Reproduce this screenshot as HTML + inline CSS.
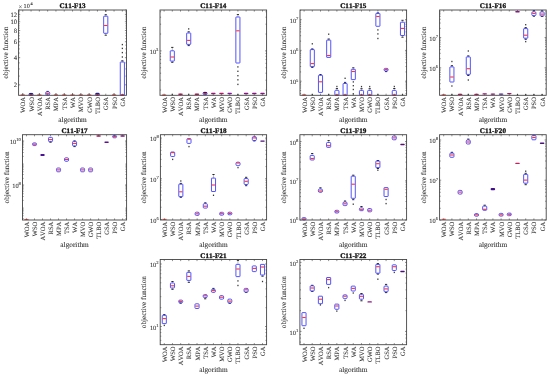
<!DOCTYPE html>
<html><head><meta charset="utf-8"><title>Boxplots</title>
<style>html,body{margin:0;padding:0;background:#fff;overflow:hidden;} svg{display:block;font-family:'Liberation Serif', serif;font-kerning:none;text-rendering:geometricPrecision;}</style>
</head><body>
<svg width="550" height="377" viewBox="0 0 550 377">
<rect width="550" height="377" fill="#fff"/>
<g>
<g><line x1="20.68" y1="94.9" x2="24.82" y2="94.9" stroke="#ff3030" stroke-width="1.2" stroke-opacity="0.8"/><rect x="22.25" y="93.4" width="1" height="1" fill="#333"/><line x1="31.05" y1="93.5" x2="31.05" y2="93.4" stroke="#000" stroke-width="0.5" stroke-opacity="0.5"/><line x1="29.95" y1="93.5" x2="32.15" y2="93.5" stroke="#111" stroke-width="0.9"/><rect x="28.98" y="93.4" width="4.15" height="2" rx="1" fill="none" stroke="#3434ff" stroke-width="0.85"/><line x1="29.38" y1="94.6" x2="32.73" y2="94.6" stroke="#ff3030" stroke-width="1.1"/><line x1="29.28" y1="93.8" x2="32.83" y2="93.8" stroke="#201060" stroke-width="1"/><line x1="37.27" y1="94.9" x2="41.43" y2="94.9" stroke="#ff3030" stroke-width="1.2" stroke-opacity="0.8"/><rect x="38.85" y="93.4" width="1" height="1" fill="#333"/><line x1="47.65" y1="91.4" x2="47.65" y2="91.9" stroke="#000" stroke-width="0.5" stroke-opacity="0.5"/><line x1="46.55" y1="91.4" x2="48.75" y2="91.4" stroke="#111" stroke-width="0.9"/><rect x="45.58" y="91.9" width="4.15" height="3.1" rx="1.2" fill="none" stroke="#3434ff" stroke-width="0.85"/><line x1="45.98" y1="93.7" x2="49.33" y2="93.7" stroke="#ff3030" stroke-width="1.1"/><line x1="53.88" y1="94.9" x2="58.03" y2="94.9" stroke="#ff3030" stroke-width="1.2" stroke-opacity="0.8"/><rect x="55.45" y="93.4" width="1" height="1" fill="#333"/><line x1="62.17" y1="94.9" x2="66.33" y2="94.9" stroke="#ff3030" stroke-width="1.2" stroke-opacity="0.8"/><rect x="63.75" y="93.4" width="1" height="1" fill="#333"/><line x1="70.48" y1="94.9" x2="74.63" y2="94.9" stroke="#ff3030" stroke-width="1.2" stroke-opacity="0.8"/><rect x="72.05" y="93.4" width="1" height="1" fill="#333"/><line x1="78.78" y1="94.9" x2="82.93" y2="94.9" stroke="#ff3030" stroke-width="1.2" stroke-opacity="0.8"/><rect x="80.35" y="93.4" width="1" height="1" fill="#333"/><line x1="87.08" y1="94.9" x2="91.23" y2="94.9" stroke="#ff3030" stroke-width="1.2" stroke-opacity="0.8"/><rect x="88.65" y="93.4" width="1" height="1" fill="#333"/><line x1="97.45" y1="93.4" x2="97.45" y2="93.3" stroke="#000" stroke-width="0.5" stroke-opacity="0.5"/><line x1="96.35" y1="93.4" x2="98.55" y2="93.4" stroke="#111" stroke-width="0.9"/><rect x="95.38" y="93.3" width="4.15" height="2.1" rx="1.05" fill="none" stroke="#3434ff" stroke-width="0.85"/><line x1="95.78" y1="94.6" x2="99.13" y2="94.6" stroke="#ff3030" stroke-width="1.1"/><line x1="95.68" y1="93.7" x2="99.23" y2="93.7" stroke="#201060" stroke-width="1"/><line x1="105.75" y1="14.7" x2="105.75" y2="16.2" stroke="#000" stroke-width="0.5" stroke-opacity="0.5"/><line x1="104.65" y1="14.7" x2="106.85" y2="14.7" stroke="#111" stroke-width="0.9"/><line x1="105.75" y1="33.3" x2="105.75" y2="35.2" stroke="#000" stroke-width="0.5" stroke-opacity="0.5"/><line x1="104.65" y1="35.2" x2="106.85" y2="35.2" stroke="#111" stroke-width="0.9"/><rect x="105.15" y="10.2" width="1.2" height="1.4" fill="#333"/><rect x="103.67" y="16.2" width="4.15" height="17.1" rx="0.4" fill="none" stroke="#3434ff" stroke-width="0.85"/><line x1="104.08" y1="25.5" x2="107.42" y2="25.5" stroke="#ff3030" stroke-width="1.1"/><line x1="111.98" y1="94.9" x2="116.13" y2="94.9" stroke="#ff3030" stroke-width="1.2" stroke-opacity="0.8"/><rect x="113.55" y="93.4" width="1" height="1" fill="#333"/><line x1="122.35" y1="60.8" x2="122.35" y2="62" stroke="#000" stroke-width="0.5" stroke-opacity="0.5"/><line x1="121.25" y1="60.8" x2="123.45" y2="60.8" stroke="#111" stroke-width="0.9"/><rect x="121.75" y="43.9" width="1.2" height="1.4" fill="#333"/><rect x="121.75" y="47.7" width="1.2" height="1.4" fill="#333"/><rect x="121.75" y="51.9" width="1.2" height="1.4" fill="#333"/><rect x="121.75" y="56.3" width="1.2" height="1.4" fill="#333"/><rect x="120.28" y="62" width="4.15" height="33.3" rx="0.4" fill="none" stroke="#3434ff" stroke-width="0.85"/><line x1="120.68" y1="94.7" x2="124.03" y2="94.7" stroke="#ff3030" stroke-width="1.1"/><rect x="18.6" y="10" width="107.9" height="85.3" fill="none" stroke="#444444" stroke-width="0.9"/><line x1="22.75" y1="95.3" x2="22.75" y2="93.7" stroke="#444444" stroke-width="0.6"/><line x1="22.75" y1="10" x2="22.75" y2="11.6" stroke="#444444" stroke-width="0.6"/><line x1="31.05" y1="95.3" x2="31.05" y2="93.7" stroke="#444444" stroke-width="0.6"/><line x1="31.05" y1="10" x2="31.05" y2="11.6" stroke="#444444" stroke-width="0.6"/><line x1="39.35" y1="95.3" x2="39.35" y2="93.7" stroke="#444444" stroke-width="0.6"/><line x1="39.35" y1="10" x2="39.35" y2="11.6" stroke="#444444" stroke-width="0.6"/><line x1="47.65" y1="95.3" x2="47.65" y2="93.7" stroke="#444444" stroke-width="0.6"/><line x1="47.65" y1="10" x2="47.65" y2="11.6" stroke="#444444" stroke-width="0.6"/><line x1="55.95" y1="95.3" x2="55.95" y2="93.7" stroke="#444444" stroke-width="0.6"/><line x1="55.95" y1="10" x2="55.95" y2="11.6" stroke="#444444" stroke-width="0.6"/><line x1="64.25" y1="95.3" x2="64.25" y2="93.7" stroke="#444444" stroke-width="0.6"/><line x1="64.25" y1="10" x2="64.25" y2="11.6" stroke="#444444" stroke-width="0.6"/><line x1="72.55" y1="95.3" x2="72.55" y2="93.7" stroke="#444444" stroke-width="0.6"/><line x1="72.55" y1="10" x2="72.55" y2="11.6" stroke="#444444" stroke-width="0.6"/><line x1="80.85" y1="95.3" x2="80.85" y2="93.7" stroke="#444444" stroke-width="0.6"/><line x1="80.85" y1="10" x2="80.85" y2="11.6" stroke="#444444" stroke-width="0.6"/><line x1="89.15" y1="95.3" x2="89.15" y2="93.7" stroke="#444444" stroke-width="0.6"/><line x1="89.15" y1="10" x2="89.15" y2="11.6" stroke="#444444" stroke-width="0.6"/><line x1="97.45" y1="95.3" x2="97.45" y2="93.7" stroke="#444444" stroke-width="0.6"/><line x1="97.45" y1="10" x2="97.45" y2="11.6" stroke="#444444" stroke-width="0.6"/><line x1="105.75" y1="95.3" x2="105.75" y2="93.7" stroke="#444444" stroke-width="0.6"/><line x1="105.75" y1="10" x2="105.75" y2="11.6" stroke="#444444" stroke-width="0.6"/><line x1="114.05" y1="95.3" x2="114.05" y2="93.7" stroke="#444444" stroke-width="0.6"/><line x1="114.05" y1="10" x2="114.05" y2="11.6" stroke="#444444" stroke-width="0.6"/><line x1="122.35" y1="95.3" x2="122.35" y2="93.7" stroke="#444444" stroke-width="0.6"/><line x1="122.35" y1="10" x2="122.35" y2="11.6" stroke="#444444" stroke-width="0.6"/><line x1="18.6" y1="84.83" x2="20.2" y2="84.83" stroke="#444444" stroke-width="0.6"/><line x1="126.5" y1="84.83" x2="124.9" y2="84.83" stroke="#444444" stroke-width="0.6"/><line x1="18.6" y1="57.66" x2="20.2" y2="57.66" stroke="#444444" stroke-width="0.6"/><line x1="126.5" y1="57.66" x2="124.9" y2="57.66" stroke="#444444" stroke-width="0.6"/><line x1="18.6" y1="41.76" x2="20.2" y2="41.76" stroke="#444444" stroke-width="0.6"/><line x1="126.5" y1="41.76" x2="124.9" y2="41.76" stroke="#444444" stroke-width="0.6"/><line x1="18.6" y1="30.49" x2="20.2" y2="30.49" stroke="#444444" stroke-width="0.6"/><line x1="126.5" y1="30.49" x2="124.9" y2="30.49" stroke="#444444" stroke-width="0.6"/><line x1="18.6" y1="21.74" x2="20.2" y2="21.74" stroke="#444444" stroke-width="0.6"/><line x1="126.5" y1="21.74" x2="124.9" y2="21.74" stroke="#444444" stroke-width="0.6"/><line x1="18.6" y1="14.59" x2="20.2" y2="14.59" stroke="#444444" stroke-width="0.6"/><line x1="126.5" y1="14.59" x2="124.9" y2="14.59" stroke="#444444" stroke-width="0.6"/><line x1="18.6" y1="76.08" x2="19.7" y2="76.08" stroke="#444444" stroke-width="0.6"/><line x1="126.5" y1="76.08" x2="125.4" y2="76.08" stroke="#444444" stroke-width="0.6"/><line x1="18.6" y1="68.93" x2="19.7" y2="68.93" stroke="#444444" stroke-width="0.6"/><line x1="126.5" y1="68.93" x2="125.4" y2="68.93" stroke="#444444" stroke-width="0.6"/><line x1="18.6" y1="62.89" x2="19.7" y2="62.89" stroke="#444444" stroke-width="0.6"/><line x1="126.5" y1="62.89" x2="125.4" y2="62.89" stroke="#444444" stroke-width="0.6"/><line x1="18.6" y1="53.04" x2="19.7" y2="53.04" stroke="#444444" stroke-width="0.6"/><line x1="126.5" y1="53.04" x2="125.4" y2="53.04" stroke="#444444" stroke-width="0.6"/><line x1="18.6" y1="48.91" x2="19.7" y2="48.91" stroke="#444444" stroke-width="0.6"/><line x1="126.5" y1="48.91" x2="125.4" y2="48.91" stroke="#444444" stroke-width="0.6"/><line x1="18.6" y1="45.17" x2="19.7" y2="45.17" stroke="#444444" stroke-width="0.6"/><line x1="126.5" y1="45.17" x2="125.4" y2="45.17" stroke="#444444" stroke-width="0.6"/><line x1="18.6" y1="38.63" x2="19.7" y2="38.63" stroke="#444444" stroke-width="0.6"/><line x1="126.5" y1="38.63" x2="125.4" y2="38.63" stroke="#444444" stroke-width="0.6"/><line x1="18.6" y1="35.72" x2="19.7" y2="35.72" stroke="#444444" stroke-width="0.6"/><line x1="126.5" y1="35.72" x2="125.4" y2="35.72" stroke="#444444" stroke-width="0.6"/><line x1="18.6" y1="33.02" x2="19.7" y2="33.02" stroke="#444444" stroke-width="0.6"/><line x1="126.5" y1="33.02" x2="125.4" y2="33.02" stroke="#444444" stroke-width="0.6"/><line x1="18.6" y1="28.11" x2="19.7" y2="28.11" stroke="#444444" stroke-width="0.6"/><line x1="126.5" y1="28.11" x2="125.4" y2="28.11" stroke="#444444" stroke-width="0.6"/><line x1="18.6" y1="25.87" x2="19.7" y2="25.87" stroke="#444444" stroke-width="0.6"/><line x1="126.5" y1="25.87" x2="125.4" y2="25.87" stroke="#444444" stroke-width="0.6"/><line x1="18.6" y1="23.75" x2="19.7" y2="23.75" stroke="#444444" stroke-width="0.6"/><line x1="126.5" y1="23.75" x2="125.4" y2="23.75" stroke="#444444" stroke-width="0.6"/><line x1="18.6" y1="19.83" x2="19.7" y2="19.83" stroke="#444444" stroke-width="0.6"/><line x1="126.5" y1="19.83" x2="125.4" y2="19.83" stroke="#444444" stroke-width="0.6"/><line x1="18.6" y1="18" x2="19.7" y2="18" stroke="#444444" stroke-width="0.6"/><line x1="126.5" y1="18" x2="125.4" y2="18" stroke="#444444" stroke-width="0.6"/><line x1="18.6" y1="16.26" x2="19.7" y2="16.26" stroke="#444444" stroke-width="0.6"/><line x1="126.5" y1="16.26" x2="125.4" y2="16.26" stroke="#444444" stroke-width="0.6"/><line x1="18.6" y1="12.99" x2="19.7" y2="12.99" stroke="#444444" stroke-width="0.6"/><line x1="126.5" y1="12.99" x2="125.4" y2="12.99" stroke="#444444" stroke-width="0.6"/><line x1="18.6" y1="11.45" x2="19.7" y2="11.45" stroke="#444444" stroke-width="0.6"/><line x1="126.5" y1="11.45" x2="125.4" y2="11.45" stroke="#444444" stroke-width="0.6"/><line x1="18.6" y1="9.97" x2="19.7" y2="9.97" stroke="#444444" stroke-width="0.6"/><line x1="126.5" y1="9.97" x2="125.4" y2="9.97" stroke="#444444" stroke-width="0.6"/><text x="17" y="87.13" text-anchor="end" font-size="6.6" fill="#333333" stroke="#333333" stroke-width="0.08">2</text><text x="17" y="59.96" text-anchor="end" font-size="6.6" fill="#333333" stroke="#333333" stroke-width="0.08">4</text><text x="17" y="44.06" text-anchor="end" font-size="6.6" fill="#333333" stroke="#333333" stroke-width="0.08">6</text><text x="17" y="32.79" text-anchor="end" font-size="6.6" fill="#333333" stroke="#333333" stroke-width="0.08">8</text><text x="17" y="24.04" text-anchor="end" font-size="6.6" fill="#333333" stroke="#333333" stroke-width="0.08">10</text><text x="17" y="16.89" text-anchor="end" font-size="6.6" fill="#333333" stroke="#333333" stroke-width="0.08">12</text><text x="20.5" y="9.1" text-anchor="middle" font-size="6.8" fill="#333333">×</text><text x="23.6" y="8" font-size="6.2" fill="#333333" stroke="#333333" stroke-width="0.08">10</text><text x="30.6" y="4.6" font-size="4.2" fill="#333333" stroke="#333333" stroke-width="0.15">4</text><text transform="translate(25.25,97.1) rotate(-90)" text-anchor="end" font-size="6.5" fill="#333333" stroke="#333333" stroke-width="0.08">WOA</text><text transform="translate(33.55,97.1) rotate(-90)" text-anchor="end" font-size="6.5" fill="#333333" stroke="#333333" stroke-width="0.08">WSO</text><text transform="translate(41.85,97.1) rotate(-90)" text-anchor="end" font-size="6.5" fill="#333333" stroke="#333333" stroke-width="0.08">AVOA</text><text transform="translate(50.15,97.1) rotate(-90)" text-anchor="end" font-size="6.5" fill="#333333" stroke="#333333" stroke-width="0.08">RSA</text><text transform="translate(58.45,97.1) rotate(-90)" text-anchor="end" font-size="6.5" fill="#333333" stroke="#333333" stroke-width="0.08">MPA</text><text transform="translate(66.75,97.1) rotate(-90)" text-anchor="end" font-size="6.5" fill="#333333" stroke="#333333" stroke-width="0.08">TSA</text><text transform="translate(75.05,97.1) rotate(-90)" text-anchor="end" font-size="6.5" fill="#333333" stroke="#333333" stroke-width="0.08">WA</text><text transform="translate(83.35,97.1) rotate(-90)" text-anchor="end" font-size="6.5" fill="#333333" stroke="#333333" stroke-width="0.08">MVO</text><text transform="translate(91.65,97.1) rotate(-90)" text-anchor="end" font-size="6.5" fill="#333333" stroke="#333333" stroke-width="0.08">GWO</text><text transform="translate(99.95,97.1) rotate(-90)" text-anchor="end" font-size="6.5" fill="#333333" stroke="#333333" stroke-width="0.08">TLBO</text><text transform="translate(108.25,97.1) rotate(-90)" text-anchor="end" font-size="6.5" fill="#333333" stroke="#333333" stroke-width="0.08">GSA</text><text transform="translate(116.55,97.1) rotate(-90)" text-anchor="end" font-size="6.5" fill="#333333" stroke="#333333" stroke-width="0.08">PSO</text><text transform="translate(124.85,97.1) rotate(-90)" text-anchor="end" font-size="6.5" fill="#333333" stroke="#333333" stroke-width="0.08">GA</text><text x="72.55" y="8.4" text-anchor="middle" font-size="7.0" font-weight="bold" fill="#111" stroke="#111" stroke-width="0.3" textLength="26.2" lengthAdjust="spacingAndGlyphs">C11-F13</text><text x="72.55" y="122.1" text-anchor="middle" font-size="7.3" fill="#333333" stroke="#333333" stroke-width="0.08">algorithm</text><text transform="translate(7.6,52.65) rotate(-90)" text-anchor="middle" font-size="7.2" fill="#333333" stroke="#333333" stroke-width="0.08">objective function</text></g>
<g><line x1="162.05" y1="95" x2="166.15" y2="95" stroke="#ff3030" stroke-width="1.2" stroke-opacity="0.8"/><line x1="172.3" y1="47.4" x2="172.3" y2="50.8" stroke="#000" stroke-width="0.5" stroke-opacity="0.5"/><line x1="171.2" y1="47.4" x2="173.4" y2="47.4" stroke="#111" stroke-width="0.9"/><line x1="172.3" y1="61.1" x2="172.3" y2="62.3" stroke="#000" stroke-width="0.5" stroke-opacity="0.5"/><line x1="171.2" y1="62.3" x2="173.4" y2="62.3" stroke="#111" stroke-width="0.9"/><rect x="171.7" y="93.8" width="1.2" height="1.4" fill="#333"/><rect x="170.25" y="50.8" width="4.1" height="10.3" rx="0.4" fill="none" stroke="#3434ff" stroke-width="0.85"/><line x1="170.65" y1="57" x2="173.95" y2="57" stroke="#ff3030" stroke-width="1.1"/><rect x="178.25" y="93.6" width="4.5" height="1.4" rx="0.7" fill="#c01458"/><line x1="188.7" y1="31.8" x2="188.7" y2="33" stroke="#000" stroke-width="0.5" stroke-opacity="0.5"/><line x1="187.6" y1="31.8" x2="189.8" y2="31.8" stroke="#111" stroke-width="0.9"/><line x1="188.7" y1="44.4" x2="188.7" y2="45.6" stroke="#000" stroke-width="0.5" stroke-opacity="0.5"/><line x1="187.6" y1="45.6" x2="189.8" y2="45.6" stroke="#111" stroke-width="0.9"/><rect x="188.1" y="28.2" width="1.2" height="1.4" fill="#333"/><rect x="188.1" y="93.8" width="1.2" height="1.4" fill="#333"/><rect x="186.65" y="33" width="4.1" height="11.4" rx="0.4" fill="none" stroke="#3434ff" stroke-width="0.85"/><line x1="187.05" y1="40.4" x2="190.35" y2="40.4" stroke="#ff3030" stroke-width="1.1"/><rect x="194.65" y="93.5" width="4.5" height="1.4" rx="0.7" fill="#c01458"/><line x1="205.1" y1="92.6" x2="205.1" y2="92.3" stroke="#000" stroke-width="0.5" stroke-opacity="0.5"/><line x1="204" y1="92.6" x2="206.2" y2="92.6" stroke="#111" stroke-width="0.9"/><rect x="203.05" y="92.3" width="4.1" height="2.3" rx="1.15" fill="none" stroke="#3434ff" stroke-width="0.85"/><line x1="203.45" y1="93.6" x2="206.75" y2="93.6" stroke="#ff3030" stroke-width="1.1"/><line x1="203.35" y1="92.7" x2="206.85" y2="92.7" stroke="#201060" stroke-width="1"/><rect x="211.05" y="92.8" width="4.5" height="1.4" rx="0.7" fill="#a01478"/><rect x="219.25" y="92.8" width="4.5" height="1.4" rx="0.7" fill="#b81468"/><rect x="227.45" y="92.8" width="4.5" height="1.4" rx="0.7" fill="#8a18a0"/><line x1="237.9" y1="14.6" x2="237.9" y2="17" stroke="#000" stroke-width="0.5" stroke-opacity="0.5"/><line x1="236.8" y1="14.6" x2="239" y2="14.6" stroke="#111" stroke-width="0.9"/><rect x="237.3" y="66.2" width="1.2" height="1.4" fill="#333"/><rect x="237.3" y="70.6" width="1.2" height="1.4" fill="#333"/><rect x="237.3" y="75" width="1.2" height="1.4" fill="#333"/><rect x="237.3" y="79.1" width="1.2" height="1.4" fill="#333"/><rect x="237.3" y="83.7" width="1.2" height="1.4" fill="#333"/><rect x="237.3" y="93.9" width="1.2" height="1.4" fill="#333"/><rect x="235.85" y="17" width="4.1" height="46" rx="0.4" fill="none" stroke="#3434ff" stroke-width="0.85"/><line x1="236.25" y1="30.8" x2="239.55" y2="30.8" stroke="#ff3030" stroke-width="1.1"/><rect x="243.85" y="92.8" width="4.5" height="1.4" rx="0.7" fill="#8a1488"/><rect x="252.05" y="92.8" width="4.5" height="1.4" rx="0.7" fill="#8a1488"/><rect x="260.25" y="92.8" width="4.5" height="1.4" rx="0.7" fill="#8a1488"/><rect x="160" y="10" width="106.6" height="85.3" fill="none" stroke="#444444" stroke-width="0.9"/><line x1="164.1" y1="95.3" x2="164.1" y2="93.7" stroke="#444444" stroke-width="0.6"/><line x1="164.1" y1="10" x2="164.1" y2="11.6" stroke="#444444" stroke-width="0.6"/><line x1="172.3" y1="95.3" x2="172.3" y2="93.7" stroke="#444444" stroke-width="0.6"/><line x1="172.3" y1="10" x2="172.3" y2="11.6" stroke="#444444" stroke-width="0.6"/><line x1="180.5" y1="95.3" x2="180.5" y2="93.7" stroke="#444444" stroke-width="0.6"/><line x1="180.5" y1="10" x2="180.5" y2="11.6" stroke="#444444" stroke-width="0.6"/><line x1="188.7" y1="95.3" x2="188.7" y2="93.7" stroke="#444444" stroke-width="0.6"/><line x1="188.7" y1="10" x2="188.7" y2="11.6" stroke="#444444" stroke-width="0.6"/><line x1="196.9" y1="95.3" x2="196.9" y2="93.7" stroke="#444444" stroke-width="0.6"/><line x1="196.9" y1="10" x2="196.9" y2="11.6" stroke="#444444" stroke-width="0.6"/><line x1="205.1" y1="95.3" x2="205.1" y2="93.7" stroke="#444444" stroke-width="0.6"/><line x1="205.1" y1="10" x2="205.1" y2="11.6" stroke="#444444" stroke-width="0.6"/><line x1="213.3" y1="95.3" x2="213.3" y2="93.7" stroke="#444444" stroke-width="0.6"/><line x1="213.3" y1="10" x2="213.3" y2="11.6" stroke="#444444" stroke-width="0.6"/><line x1="221.5" y1="95.3" x2="221.5" y2="93.7" stroke="#444444" stroke-width="0.6"/><line x1="221.5" y1="10" x2="221.5" y2="11.6" stroke="#444444" stroke-width="0.6"/><line x1="229.7" y1="95.3" x2="229.7" y2="93.7" stroke="#444444" stroke-width="0.6"/><line x1="229.7" y1="10" x2="229.7" y2="11.6" stroke="#444444" stroke-width="0.6"/><line x1="237.9" y1="95.3" x2="237.9" y2="93.7" stroke="#444444" stroke-width="0.6"/><line x1="237.9" y1="10" x2="237.9" y2="11.6" stroke="#444444" stroke-width="0.6"/><line x1="246.1" y1="95.3" x2="246.1" y2="93.7" stroke="#444444" stroke-width="0.6"/><line x1="246.1" y1="10" x2="246.1" y2="11.6" stroke="#444444" stroke-width="0.6"/><line x1="254.3" y1="95.3" x2="254.3" y2="93.7" stroke="#444444" stroke-width="0.6"/><line x1="254.3" y1="10" x2="254.3" y2="11.6" stroke="#444444" stroke-width="0.6"/><line x1="262.5" y1="95.3" x2="262.5" y2="93.7" stroke="#444444" stroke-width="0.6"/><line x1="262.5" y1="10" x2="262.5" y2="11.6" stroke="#444444" stroke-width="0.6"/><line x1="160" y1="50.9" x2="161.6" y2="50.9" stroke="#444444" stroke-width="0.6"/><line x1="266.6" y1="50.9" x2="265" y2="50.9" stroke="#444444" stroke-width="0.6"/><line x1="160" y1="90.04" x2="161.1" y2="90.04" stroke="#444444" stroke-width="0.6"/><line x1="266.6" y1="90.04" x2="265.5" y2="90.04" stroke="#444444" stroke-width="0.6"/><line x1="160" y1="80.18" x2="161.1" y2="80.18" stroke="#444444" stroke-width="0.6"/><line x1="266.6" y1="80.18" x2="265.5" y2="80.18" stroke="#444444" stroke-width="0.6"/><line x1="160" y1="73.18" x2="161.1" y2="73.18" stroke="#444444" stroke-width="0.6"/><line x1="266.6" y1="73.18" x2="265.5" y2="73.18" stroke="#444444" stroke-width="0.6"/><line x1="160" y1="67.76" x2="161.1" y2="67.76" stroke="#444444" stroke-width="0.6"/><line x1="266.6" y1="67.76" x2="265.5" y2="67.76" stroke="#444444" stroke-width="0.6"/><line x1="160" y1="63.32" x2="161.1" y2="63.32" stroke="#444444" stroke-width="0.6"/><line x1="266.6" y1="63.32" x2="265.5" y2="63.32" stroke="#444444" stroke-width="0.6"/><line x1="160" y1="59.57" x2="161.1" y2="59.57" stroke="#444444" stroke-width="0.6"/><line x1="266.6" y1="59.57" x2="265.5" y2="59.57" stroke="#444444" stroke-width="0.6"/><line x1="160" y1="56.33" x2="161.1" y2="56.33" stroke="#444444" stroke-width="0.6"/><line x1="266.6" y1="56.33" x2="265.5" y2="56.33" stroke="#444444" stroke-width="0.6"/><line x1="160" y1="53.46" x2="161.1" y2="53.46" stroke="#444444" stroke-width="0.6"/><line x1="266.6" y1="53.46" x2="265.5" y2="53.46" stroke="#444444" stroke-width="0.6"/><line x1="160" y1="34.04" x2="161.1" y2="34.04" stroke="#444444" stroke-width="0.6"/><line x1="266.6" y1="34.04" x2="265.5" y2="34.04" stroke="#444444" stroke-width="0.6"/><line x1="160" y1="24.18" x2="161.1" y2="24.18" stroke="#444444" stroke-width="0.6"/><line x1="266.6" y1="24.18" x2="265.5" y2="24.18" stroke="#444444" stroke-width="0.6"/><line x1="160" y1="17.18" x2="161.1" y2="17.18" stroke="#444444" stroke-width="0.6"/><line x1="266.6" y1="17.18" x2="265.5" y2="17.18" stroke="#444444" stroke-width="0.6"/><line x1="160" y1="11.76" x2="161.1" y2="11.76" stroke="#444444" stroke-width="0.6"/><line x1="266.6" y1="11.76" x2="265.5" y2="11.76" stroke="#444444" stroke-width="0.6"/><text x="158.4" y="54" text-anchor="end" font-size="6.4" fill="#333333" stroke="#333333" stroke-width="0.08">10<tspan font-size="4.6" dy="-2.8">3</tspan></text><text transform="translate(166.6,97.1) rotate(-90)" text-anchor="end" font-size="6.5" fill="#333333" stroke="#333333" stroke-width="0.08">WOA</text><text transform="translate(174.8,97.1) rotate(-90)" text-anchor="end" font-size="6.5" fill="#333333" stroke="#333333" stroke-width="0.08">WSO</text><text transform="translate(183,97.1) rotate(-90)" text-anchor="end" font-size="6.5" fill="#333333" stroke="#333333" stroke-width="0.08">AVOA</text><text transform="translate(191.2,97.1) rotate(-90)" text-anchor="end" font-size="6.5" fill="#333333" stroke="#333333" stroke-width="0.08">RSA</text><text transform="translate(199.4,97.1) rotate(-90)" text-anchor="end" font-size="6.5" fill="#333333" stroke="#333333" stroke-width="0.08">MPA</text><text transform="translate(207.6,97.1) rotate(-90)" text-anchor="end" font-size="6.5" fill="#333333" stroke="#333333" stroke-width="0.08">TSA</text><text transform="translate(215.8,97.1) rotate(-90)" text-anchor="end" font-size="6.5" fill="#333333" stroke="#333333" stroke-width="0.08">WA</text><text transform="translate(224,97.1) rotate(-90)" text-anchor="end" font-size="6.5" fill="#333333" stroke="#333333" stroke-width="0.08">MVO</text><text transform="translate(232.2,97.1) rotate(-90)" text-anchor="end" font-size="6.5" fill="#333333" stroke="#333333" stroke-width="0.08">GWO</text><text transform="translate(240.4,97.1) rotate(-90)" text-anchor="end" font-size="6.5" fill="#333333" stroke="#333333" stroke-width="0.08">TLBO</text><text transform="translate(248.6,97.1) rotate(-90)" text-anchor="end" font-size="6.5" fill="#333333" stroke="#333333" stroke-width="0.08">GSA</text><text transform="translate(256.8,97.1) rotate(-90)" text-anchor="end" font-size="6.5" fill="#333333" stroke="#333333" stroke-width="0.08">PSO</text><text transform="translate(265,97.1) rotate(-90)" text-anchor="end" font-size="6.5" fill="#333333" stroke="#333333" stroke-width="0.08">GA</text><text x="213.3" y="8.4" text-anchor="middle" font-size="7.0" font-weight="bold" fill="#111" stroke="#111" stroke-width="0.3" textLength="26.2" lengthAdjust="spacingAndGlyphs">C11-F14</text><text x="213.3" y="122.1" text-anchor="middle" font-size="7.3" fill="#333333" stroke="#333333" stroke-width="0.08">algorithm</text><text transform="translate(146,52.65) rotate(-90)" text-anchor="middle" font-size="7.2" fill="#333333" stroke="#333333" stroke-width="0.08">objective function</text></g>
<g><line x1="302.05" y1="94.9" x2="306.15" y2="94.9" stroke="#ff3030" stroke-width="1.2" stroke-opacity="0.8"/><line x1="312.3" y1="48.9" x2="312.3" y2="49.6" stroke="#000" stroke-width="0.5" stroke-opacity="0.5"/><line x1="311.2" y1="48.9" x2="313.4" y2="48.9" stroke="#111" stroke-width="0.9"/><line x1="312.3" y1="66.6" x2="312.3" y2="67.4" stroke="#000" stroke-width="0.5" stroke-opacity="0.5"/><line x1="311.2" y1="67.4" x2="313.4" y2="67.4" stroke="#111" stroke-width="0.9"/><rect x="311.7" y="43.1" width="1.2" height="1.4" fill="#333"/><rect x="311.7" y="93.9" width="1.2" height="1.4" fill="#333"/><rect x="310.25" y="49.6" width="4.1" height="17" rx="0.4" fill="none" stroke="#3434ff" stroke-width="0.85"/><line x1="310.65" y1="63.6" x2="313.95" y2="63.6" stroke="#ff3030" stroke-width="1.1"/><line x1="320.5" y1="74.5" x2="320.5" y2="75.3" stroke="#000" stroke-width="0.5" stroke-opacity="0.5"/><line x1="319.4" y1="74.5" x2="321.6" y2="74.5" stroke="#111" stroke-width="0.9"/><rect x="318.45" y="75.3" width="4.1" height="17.1" rx="0.4" fill="none" stroke="#3434ff" stroke-width="0.85"/><line x1="318.85" y1="81.8" x2="322.15" y2="81.8" stroke="#ff3030" stroke-width="1.1"/><line x1="328.7" y1="39" x2="328.7" y2="40.1" stroke="#000" stroke-width="0.5" stroke-opacity="0.5"/><line x1="327.6" y1="39" x2="329.8" y2="39" stroke="#111" stroke-width="0.9"/><rect x="328.1" y="33.5" width="1.2" height="1.4" fill="#333"/><rect x="328.1" y="93.9" width="1.2" height="1.4" fill="#333"/><rect x="326.65" y="40.1" width="4.1" height="17.3" rx="0.4" fill="none" stroke="#3434ff" stroke-width="0.85"/><line x1="327.05" y1="55.5" x2="330.35" y2="55.5" stroke="#ff3030" stroke-width="1.1"/><line x1="336.9" y1="88.6" x2="336.9" y2="90.3" stroke="#000" stroke-width="0.5" stroke-opacity="0.5"/><line x1="335.8" y1="88.6" x2="338" y2="88.6" stroke="#111" stroke-width="0.9"/><rect x="336.3" y="85.8" width="1.2" height="1.4" fill="#333"/><rect x="334.85" y="90.3" width="4.1" height="5" rx="0.8" fill="none" stroke="#3434ff" stroke-width="0.85"/><line x1="335.25" y1="94.9" x2="338.55" y2="94.9" stroke="#ff3030" stroke-width="1.1"/><line x1="345.1" y1="82.4" x2="345.1" y2="83.5" stroke="#000" stroke-width="0.5" stroke-opacity="0.5"/><line x1="344" y1="82.4" x2="346.2" y2="82.4" stroke="#111" stroke-width="0.9"/><rect x="344.5" y="77.6" width="1.2" height="1.4" fill="#333"/><rect x="343.05" y="83.5" width="4.1" height="11.8" rx="0.4" fill="none" stroke="#3434ff" stroke-width="0.85"/><line x1="343.45" y1="94.9" x2="346.75" y2="94.9" stroke="#ff3030" stroke-width="1.1"/><line x1="353.3" y1="67.8" x2="353.3" y2="69.3" stroke="#000" stroke-width="0.5" stroke-opacity="0.5"/><line x1="352.2" y1="67.8" x2="354.4" y2="67.8" stroke="#111" stroke-width="0.9"/><rect x="352.7" y="81.2" width="1.2" height="1.4" fill="#333"/><rect x="352.7" y="85" width="1.2" height="1.4" fill="#333"/><rect x="352.7" y="88.8" width="1.2" height="1.4" fill="#333"/><rect x="352.7" y="93.1" width="1.2" height="1.4" fill="#333"/><rect x="351.25" y="69.3" width="4.1" height="10.3" rx="0.4" fill="none" stroke="#3434ff" stroke-width="0.85"/><line x1="351.65" y1="71.5" x2="354.95" y2="71.5" stroke="#ff3030" stroke-width="1.1"/><line x1="361.5" y1="88.7" x2="361.5" y2="90.4" stroke="#000" stroke-width="0.5" stroke-opacity="0.5"/><line x1="360.4" y1="88.7" x2="362.6" y2="88.7" stroke="#111" stroke-width="0.9"/><rect x="360.9" y="85.9" width="1.2" height="1.4" fill="#333"/><rect x="359.45" y="90.4" width="4.1" height="4.9" rx="0.8" fill="none" stroke="#3434ff" stroke-width="0.85"/><line x1="359.85" y1="94.9" x2="363.15" y2="94.9" stroke="#ff3030" stroke-width="1.1"/><line x1="369.7" y1="88.7" x2="369.7" y2="90.4" stroke="#000" stroke-width="0.5" stroke-opacity="0.5"/><line x1="368.6" y1="88.7" x2="370.8" y2="88.7" stroke="#111" stroke-width="0.9"/><rect x="369.1" y="85.9" width="1.2" height="1.4" fill="#333"/><rect x="367.65" y="90.4" width="4.1" height="4.9" rx="0.8" fill="none" stroke="#3434ff" stroke-width="0.85"/><line x1="368.05" y1="94.9" x2="371.35" y2="94.9" stroke="#ff3030" stroke-width="1.1"/><line x1="377.9" y1="12.9" x2="377.9" y2="13.4" stroke="#000" stroke-width="0.5" stroke-opacity="0.5"/><line x1="376.8" y1="12.9" x2="379" y2="12.9" stroke="#111" stroke-width="0.9"/><rect x="377.3" y="29.2" width="1.2" height="1.4" fill="#333"/><rect x="377.3" y="33.2" width="1.2" height="1.4" fill="#333"/><rect x="377.3" y="37.8" width="1.2" height="1.4" fill="#333"/><rect x="377.3" y="93.9" width="1.2" height="1.4" fill="#333"/><rect x="375.85" y="13.4" width="4.1" height="12.9" rx="0.4" fill="none" stroke="#3434ff" stroke-width="0.85"/><line x1="376.25" y1="16.5" x2="379.55" y2="16.5" stroke="#ff3030" stroke-width="1.1"/><line x1="386.1" y1="71" x2="386.1" y2="71.6" stroke="#000" stroke-width="0.5" stroke-opacity="0.5"/><line x1="385" y1="71.6" x2="387.2" y2="71.6" stroke="#111" stroke-width="0.9"/><rect x="384.05" y="68.4" width="4.1" height="2.6" rx="1.2" fill="none" stroke="#3434ff" stroke-width="0.85"/><line x1="384.45" y1="69.6" x2="387.75" y2="69.6" stroke="#ff3030" stroke-width="1.1"/><line x1="394.3" y1="88.5" x2="394.3" y2="90.4" stroke="#000" stroke-width="0.5" stroke-opacity="0.5"/><line x1="393.2" y1="88.5" x2="395.4" y2="88.5" stroke="#111" stroke-width="0.9"/><rect x="393.7" y="85.8" width="1.2" height="1.4" fill="#333"/><rect x="392.25" y="90.4" width="4.1" height="4.9" rx="0.8" fill="none" stroke="#3434ff" stroke-width="0.85"/><line x1="392.65" y1="94.9" x2="395.95" y2="94.9" stroke="#ff3030" stroke-width="1.1"/><line x1="402.5" y1="20.3" x2="402.5" y2="22.2" stroke="#000" stroke-width="0.5" stroke-opacity="0.5"/><line x1="401.4" y1="20.3" x2="403.6" y2="20.3" stroke="#111" stroke-width="0.9"/><line x1="402.5" y1="35.5" x2="402.5" y2="37.2" stroke="#000" stroke-width="0.5" stroke-opacity="0.5"/><line x1="401.4" y1="37.2" x2="403.6" y2="37.2" stroke="#111" stroke-width="0.9"/><rect x="401.9" y="93.9" width="1.2" height="1.4" fill="#333"/><rect x="400.45" y="22.2" width="4.1" height="13.3" rx="0.4" fill="none" stroke="#3434ff" stroke-width="0.85"/><line x1="400.85" y1="28.4" x2="404.15" y2="28.4" stroke="#ff3030" stroke-width="1.1"/><rect x="300" y="10" width="106.6" height="85.3" fill="none" stroke="#444444" stroke-width="0.9"/><line x1="304.1" y1="95.3" x2="304.1" y2="93.7" stroke="#444444" stroke-width="0.6"/><line x1="304.1" y1="10" x2="304.1" y2="11.6" stroke="#444444" stroke-width="0.6"/><line x1="312.3" y1="95.3" x2="312.3" y2="93.7" stroke="#444444" stroke-width="0.6"/><line x1="312.3" y1="10" x2="312.3" y2="11.6" stroke="#444444" stroke-width="0.6"/><line x1="320.5" y1="95.3" x2="320.5" y2="93.7" stroke="#444444" stroke-width="0.6"/><line x1="320.5" y1="10" x2="320.5" y2="11.6" stroke="#444444" stroke-width="0.6"/><line x1="328.7" y1="95.3" x2="328.7" y2="93.7" stroke="#444444" stroke-width="0.6"/><line x1="328.7" y1="10" x2="328.7" y2="11.6" stroke="#444444" stroke-width="0.6"/><line x1="336.9" y1="95.3" x2="336.9" y2="93.7" stroke="#444444" stroke-width="0.6"/><line x1="336.9" y1="10" x2="336.9" y2="11.6" stroke="#444444" stroke-width="0.6"/><line x1="345.1" y1="95.3" x2="345.1" y2="93.7" stroke="#444444" stroke-width="0.6"/><line x1="345.1" y1="10" x2="345.1" y2="11.6" stroke="#444444" stroke-width="0.6"/><line x1="353.3" y1="95.3" x2="353.3" y2="93.7" stroke="#444444" stroke-width="0.6"/><line x1="353.3" y1="10" x2="353.3" y2="11.6" stroke="#444444" stroke-width="0.6"/><line x1="361.5" y1="95.3" x2="361.5" y2="93.7" stroke="#444444" stroke-width="0.6"/><line x1="361.5" y1="10" x2="361.5" y2="11.6" stroke="#444444" stroke-width="0.6"/><line x1="369.7" y1="95.3" x2="369.7" y2="93.7" stroke="#444444" stroke-width="0.6"/><line x1="369.7" y1="10" x2="369.7" y2="11.6" stroke="#444444" stroke-width="0.6"/><line x1="377.9" y1="95.3" x2="377.9" y2="93.7" stroke="#444444" stroke-width="0.6"/><line x1="377.9" y1="10" x2="377.9" y2="11.6" stroke="#444444" stroke-width="0.6"/><line x1="386.1" y1="95.3" x2="386.1" y2="93.7" stroke="#444444" stroke-width="0.6"/><line x1="386.1" y1="10" x2="386.1" y2="11.6" stroke="#444444" stroke-width="0.6"/><line x1="394.3" y1="95.3" x2="394.3" y2="93.7" stroke="#444444" stroke-width="0.6"/><line x1="394.3" y1="10" x2="394.3" y2="11.6" stroke="#444444" stroke-width="0.6"/><line x1="402.5" y1="95.3" x2="402.5" y2="93.7" stroke="#444444" stroke-width="0.6"/><line x1="402.5" y1="10" x2="402.5" y2="11.6" stroke="#444444" stroke-width="0.6"/><line x1="300" y1="81.2" x2="301.6" y2="81.2" stroke="#444444" stroke-width="0.6"/><line x1="406.6" y1="81.2" x2="405" y2="81.2" stroke="#444444" stroke-width="0.6"/><line x1="300" y1="50.4" x2="301.6" y2="50.4" stroke="#444444" stroke-width="0.6"/><line x1="406.6" y1="50.4" x2="405" y2="50.4" stroke="#444444" stroke-width="0.6"/><line x1="300" y1="19.6" x2="301.6" y2="19.6" stroke="#444444" stroke-width="0.6"/><line x1="406.6" y1="19.6" x2="405" y2="19.6" stroke="#444444" stroke-width="0.6"/><line x1="300" y1="93.46" x2="301.1" y2="93.46" stroke="#444444" stroke-width="0.6"/><line x1="406.6" y1="93.46" x2="405.5" y2="93.46" stroke="#444444" stroke-width="0.6"/><line x1="300" y1="90.47" x2="301.1" y2="90.47" stroke="#444444" stroke-width="0.6"/><line x1="406.6" y1="90.47" x2="405.5" y2="90.47" stroke="#444444" stroke-width="0.6"/><line x1="300" y1="88.03" x2="301.1" y2="88.03" stroke="#444444" stroke-width="0.6"/><line x1="406.6" y1="88.03" x2="405.5" y2="88.03" stroke="#444444" stroke-width="0.6"/><line x1="300" y1="85.97" x2="301.1" y2="85.97" stroke="#444444" stroke-width="0.6"/><line x1="406.6" y1="85.97" x2="405.5" y2="85.97" stroke="#444444" stroke-width="0.6"/><line x1="300" y1="84.18" x2="301.1" y2="84.18" stroke="#444444" stroke-width="0.6"/><line x1="406.6" y1="84.18" x2="405.5" y2="84.18" stroke="#444444" stroke-width="0.6"/><line x1="300" y1="82.61" x2="301.1" y2="82.61" stroke="#444444" stroke-width="0.6"/><line x1="406.6" y1="82.61" x2="405.5" y2="82.61" stroke="#444444" stroke-width="0.6"/><line x1="300" y1="71.93" x2="301.1" y2="71.93" stroke="#444444" stroke-width="0.6"/><line x1="406.6" y1="71.93" x2="405.5" y2="71.93" stroke="#444444" stroke-width="0.6"/><line x1="300" y1="66.5" x2="301.1" y2="66.5" stroke="#444444" stroke-width="0.6"/><line x1="406.6" y1="66.5" x2="405.5" y2="66.5" stroke="#444444" stroke-width="0.6"/><line x1="300" y1="62.66" x2="301.1" y2="62.66" stroke="#444444" stroke-width="0.6"/><line x1="406.6" y1="62.66" x2="405.5" y2="62.66" stroke="#444444" stroke-width="0.6"/><line x1="300" y1="59.67" x2="301.1" y2="59.67" stroke="#444444" stroke-width="0.6"/><line x1="406.6" y1="59.67" x2="405.5" y2="59.67" stroke="#444444" stroke-width="0.6"/><line x1="300" y1="57.23" x2="301.1" y2="57.23" stroke="#444444" stroke-width="0.6"/><line x1="406.6" y1="57.23" x2="405.5" y2="57.23" stroke="#444444" stroke-width="0.6"/><line x1="300" y1="55.17" x2="301.1" y2="55.17" stroke="#444444" stroke-width="0.6"/><line x1="406.6" y1="55.17" x2="405.5" y2="55.17" stroke="#444444" stroke-width="0.6"/><line x1="300" y1="53.38" x2="301.1" y2="53.38" stroke="#444444" stroke-width="0.6"/><line x1="406.6" y1="53.38" x2="405.5" y2="53.38" stroke="#444444" stroke-width="0.6"/><line x1="300" y1="51.81" x2="301.1" y2="51.81" stroke="#444444" stroke-width="0.6"/><line x1="406.6" y1="51.81" x2="405.5" y2="51.81" stroke="#444444" stroke-width="0.6"/><line x1="300" y1="41.13" x2="301.1" y2="41.13" stroke="#444444" stroke-width="0.6"/><line x1="406.6" y1="41.13" x2="405.5" y2="41.13" stroke="#444444" stroke-width="0.6"/><line x1="300" y1="35.7" x2="301.1" y2="35.7" stroke="#444444" stroke-width="0.6"/><line x1="406.6" y1="35.7" x2="405.5" y2="35.7" stroke="#444444" stroke-width="0.6"/><line x1="300" y1="31.86" x2="301.1" y2="31.86" stroke="#444444" stroke-width="0.6"/><line x1="406.6" y1="31.86" x2="405.5" y2="31.86" stroke="#444444" stroke-width="0.6"/><line x1="300" y1="28.87" x2="301.1" y2="28.87" stroke="#444444" stroke-width="0.6"/><line x1="406.6" y1="28.87" x2="405.5" y2="28.87" stroke="#444444" stroke-width="0.6"/><line x1="300" y1="26.43" x2="301.1" y2="26.43" stroke="#444444" stroke-width="0.6"/><line x1="406.6" y1="26.43" x2="405.5" y2="26.43" stroke="#444444" stroke-width="0.6"/><line x1="300" y1="24.37" x2="301.1" y2="24.37" stroke="#444444" stroke-width="0.6"/><line x1="406.6" y1="24.37" x2="405.5" y2="24.37" stroke="#444444" stroke-width="0.6"/><line x1="300" y1="22.58" x2="301.1" y2="22.58" stroke="#444444" stroke-width="0.6"/><line x1="406.6" y1="22.58" x2="405.5" y2="22.58" stroke="#444444" stroke-width="0.6"/><line x1="300" y1="21.01" x2="301.1" y2="21.01" stroke="#444444" stroke-width="0.6"/><line x1="406.6" y1="21.01" x2="405.5" y2="21.01" stroke="#444444" stroke-width="0.6"/><line x1="300" y1="10.33" x2="301.1" y2="10.33" stroke="#444444" stroke-width="0.6"/><line x1="406.6" y1="10.33" x2="405.5" y2="10.33" stroke="#444444" stroke-width="0.6"/><text x="298.4" y="84.3" text-anchor="end" font-size="6.4" fill="#333333" stroke="#333333" stroke-width="0.08">10<tspan font-size="4.6" dy="-2.8">5</tspan></text><text x="298.4" y="53.5" text-anchor="end" font-size="6.4" fill="#333333" stroke="#333333" stroke-width="0.08">10<tspan font-size="4.6" dy="-2.8">6</tspan></text><text x="298.4" y="22.7" text-anchor="end" font-size="6.4" fill="#333333" stroke="#333333" stroke-width="0.08">10<tspan font-size="4.6" dy="-2.8">7</tspan></text><text transform="translate(306.6,97.1) rotate(-90)" text-anchor="end" font-size="6.5" fill="#333333" stroke="#333333" stroke-width="0.08">WOA</text><text transform="translate(314.8,97.1) rotate(-90)" text-anchor="end" font-size="6.5" fill="#333333" stroke="#333333" stroke-width="0.08">WSO</text><text transform="translate(323,97.1) rotate(-90)" text-anchor="end" font-size="6.5" fill="#333333" stroke="#333333" stroke-width="0.08">AVOA</text><text transform="translate(331.2,97.1) rotate(-90)" text-anchor="end" font-size="6.5" fill="#333333" stroke="#333333" stroke-width="0.08">RSA</text><text transform="translate(339.4,97.1) rotate(-90)" text-anchor="end" font-size="6.5" fill="#333333" stroke="#333333" stroke-width="0.08">MPA</text><text transform="translate(347.6,97.1) rotate(-90)" text-anchor="end" font-size="6.5" fill="#333333" stroke="#333333" stroke-width="0.08">TSA</text><text transform="translate(355.8,97.1) rotate(-90)" text-anchor="end" font-size="6.5" fill="#333333" stroke="#333333" stroke-width="0.08">WA</text><text transform="translate(364,97.1) rotate(-90)" text-anchor="end" font-size="6.5" fill="#333333" stroke="#333333" stroke-width="0.08">MVO</text><text transform="translate(372.2,97.1) rotate(-90)" text-anchor="end" font-size="6.5" fill="#333333" stroke="#333333" stroke-width="0.08">GWO</text><text transform="translate(380.4,97.1) rotate(-90)" text-anchor="end" font-size="6.5" fill="#333333" stroke="#333333" stroke-width="0.08">TLBO</text><text transform="translate(388.6,97.1) rotate(-90)" text-anchor="end" font-size="6.5" fill="#333333" stroke="#333333" stroke-width="0.08">GSA</text><text transform="translate(396.8,97.1) rotate(-90)" text-anchor="end" font-size="6.5" fill="#333333" stroke="#333333" stroke-width="0.08">PSO</text><text transform="translate(405,97.1) rotate(-90)" text-anchor="end" font-size="6.5" fill="#333333" stroke="#333333" stroke-width="0.08">GA</text><text x="353.3" y="8.4" text-anchor="middle" font-size="7.0" font-weight="bold" fill="#111" stroke="#111" stroke-width="0.3" textLength="26.2" lengthAdjust="spacingAndGlyphs">C11-F15</text><text x="353.3" y="122.1" text-anchor="middle" font-size="7.3" fill="#333333" stroke="#333333" stroke-width="0.08">algorithm</text><text transform="translate(286,52.65) rotate(-90)" text-anchor="middle" font-size="7.2" fill="#333333" stroke="#333333" stroke-width="0.08">objective function</text></g>
<g><line x1="441.65" y1="94.8" x2="445.75" y2="94.8" stroke="#ff3030" stroke-width="1.2" stroke-opacity="0.8"/><line x1="451.9" y1="65.7" x2="451.9" y2="66.9" stroke="#000" stroke-width="0.5" stroke-opacity="0.5"/><line x1="450.8" y1="65.7" x2="453" y2="65.7" stroke="#111" stroke-width="0.9"/><rect x="451.3" y="60.8" width="1.2" height="1.4" fill="#333"/><rect x="451.3" y="85.3" width="1.2" height="1.4" fill="#333"/><rect x="451.3" y="93.9" width="1.2" height="1.4" fill="#333"/><rect x="449.85" y="66.9" width="4.1" height="15.1" rx="0.4" fill="none" stroke="#3434ff" stroke-width="0.85"/><line x1="450.25" y1="77" x2="453.55" y2="77" stroke="#ff3030" stroke-width="1.1"/><rect x="457.85" y="93.7" width="4.5" height="1.4" rx="0.7" fill="#c01458"/><line x1="468.3" y1="55.9" x2="468.3" y2="56.9" stroke="#000" stroke-width="0.5" stroke-opacity="0.5"/><line x1="467.2" y1="55.9" x2="469.4" y2="55.9" stroke="#111" stroke-width="0.9"/><line x1="468.3" y1="74.4" x2="468.3" y2="75.5" stroke="#000" stroke-width="0.5" stroke-opacity="0.5"/><line x1="467.2" y1="75.5" x2="469.4" y2="75.5" stroke="#111" stroke-width="0.9"/><rect x="467.7" y="50.3" width="1.2" height="1.4" fill="#333"/><rect x="467.7" y="79.3" width="1.2" height="1.4" fill="#333"/><rect x="467.7" y="93.9" width="1.2" height="1.4" fill="#333"/><rect x="466.25" y="56.9" width="4.1" height="17.5" rx="0.4" fill="none" stroke="#3434ff" stroke-width="0.85"/><line x1="466.65" y1="68.7" x2="469.95" y2="68.7" stroke="#ff3030" stroke-width="1.1"/><rect x="474.25" y="93.7" width="4.5" height="1.4" rx="0.7" fill="#c01458"/><rect x="482.45" y="93.2" width="4.5" height="1.4" rx="0.7" fill="#a01478"/><rect x="490.65" y="93.4" width="4.5" height="1.4" rx="0.7" fill="#9a1480"/><rect x="498.85" y="93.4" width="4.5" height="1.4" rx="0.7" fill="#5a20b0"/><rect x="507.05" y="92.9" width="4.5" height="1.4" rx="0.7" fill="#b01870"/><rect x="515.25" y="11" width="4.5" height="1.4" rx="0.7" fill="#8a1488"/><rect x="516.9" y="94" width="1.2" height="1.4" fill="#333"/><line x1="525.7" y1="27.6" x2="525.7" y2="28.6" stroke="#000" stroke-width="0.5" stroke-opacity="0.5"/><line x1="524.6" y1="27.6" x2="526.8" y2="27.6" stroke="#111" stroke-width="0.9"/><line x1="525.7" y1="38.2" x2="525.7" y2="39.3" stroke="#000" stroke-width="0.5" stroke-opacity="0.5"/><line x1="524.6" y1="39.3" x2="526.8" y2="39.3" stroke="#111" stroke-width="0.9"/><rect x="525.1" y="24" width="1.2" height="1.4" fill="#333"/><rect x="525.1" y="40.9" width="1.2" height="1.4" fill="#333"/><rect x="525.1" y="94" width="1.2" height="1.4" fill="#333"/><rect x="523.65" y="28.6" width="4.1" height="9.6" rx="0.4" fill="none" stroke="#3434ff" stroke-width="0.85"/><line x1="524.05" y1="35.2" x2="527.35" y2="35.2" stroke="#ff3030" stroke-width="1.1"/><line x1="533.9" y1="10.6" x2="533.9" y2="11.7" stroke="#000" stroke-width="0.5" stroke-opacity="0.5"/><line x1="532.8" y1="10.6" x2="535" y2="10.6" stroke="#111" stroke-width="0.9"/><line x1="533.9" y1="15.7" x2="533.9" y2="16.2" stroke="#000" stroke-width="0.5" stroke-opacity="0.5"/><line x1="532.8" y1="16.2" x2="535" y2="16.2" stroke="#111" stroke-width="0.9"/><rect x="533.3" y="94" width="1.2" height="1.4" fill="#333"/><rect x="531.85" y="11.7" width="4.1" height="4" rx="1.2" fill="none" stroke="#3434ff" stroke-width="0.85"/><line x1="532.25" y1="13.4" x2="535.55" y2="13.4" stroke="#ff3030" stroke-width="1.1"/><line x1="542.1" y1="10.8" x2="542.1" y2="11.9" stroke="#000" stroke-width="0.5" stroke-opacity="0.5"/><line x1="541" y1="10.8" x2="543.2" y2="10.8" stroke="#111" stroke-width="0.9"/><line x1="542.1" y1="16" x2="542.1" y2="16.4" stroke="#000" stroke-width="0.5" stroke-opacity="0.5"/><line x1="541" y1="16.4" x2="543.2" y2="16.4" stroke="#111" stroke-width="0.9"/><rect x="541.5" y="94" width="1.2" height="1.4" fill="#333"/><rect x="540.05" y="11.9" width="4.1" height="4.1" rx="0.8" fill="none" stroke="#3434ff" stroke-width="0.85"/><line x1="540.45" y1="14.1" x2="543.75" y2="14.1" stroke="#ff3030" stroke-width="1.1"/><rect x="439.6" y="10" width="106.6" height="85.3" fill="none" stroke="#444444" stroke-width="0.9"/><line x1="443.7" y1="95.3" x2="443.7" y2="93.7" stroke="#444444" stroke-width="0.6"/><line x1="443.7" y1="10" x2="443.7" y2="11.6" stroke="#444444" stroke-width="0.6"/><line x1="451.9" y1="95.3" x2="451.9" y2="93.7" stroke="#444444" stroke-width="0.6"/><line x1="451.9" y1="10" x2="451.9" y2="11.6" stroke="#444444" stroke-width="0.6"/><line x1="460.1" y1="95.3" x2="460.1" y2="93.7" stroke="#444444" stroke-width="0.6"/><line x1="460.1" y1="10" x2="460.1" y2="11.6" stroke="#444444" stroke-width="0.6"/><line x1="468.3" y1="95.3" x2="468.3" y2="93.7" stroke="#444444" stroke-width="0.6"/><line x1="468.3" y1="10" x2="468.3" y2="11.6" stroke="#444444" stroke-width="0.6"/><line x1="476.5" y1="95.3" x2="476.5" y2="93.7" stroke="#444444" stroke-width="0.6"/><line x1="476.5" y1="10" x2="476.5" y2="11.6" stroke="#444444" stroke-width="0.6"/><line x1="484.7" y1="95.3" x2="484.7" y2="93.7" stroke="#444444" stroke-width="0.6"/><line x1="484.7" y1="10" x2="484.7" y2="11.6" stroke="#444444" stroke-width="0.6"/><line x1="492.9" y1="95.3" x2="492.9" y2="93.7" stroke="#444444" stroke-width="0.6"/><line x1="492.9" y1="10" x2="492.9" y2="11.6" stroke="#444444" stroke-width="0.6"/><line x1="501.1" y1="95.3" x2="501.1" y2="93.7" stroke="#444444" stroke-width="0.6"/><line x1="501.1" y1="10" x2="501.1" y2="11.6" stroke="#444444" stroke-width="0.6"/><line x1="509.3" y1="95.3" x2="509.3" y2="93.7" stroke="#444444" stroke-width="0.6"/><line x1="509.3" y1="10" x2="509.3" y2="11.6" stroke="#444444" stroke-width="0.6"/><line x1="517.5" y1="95.3" x2="517.5" y2="93.7" stroke="#444444" stroke-width="0.6"/><line x1="517.5" y1="10" x2="517.5" y2="11.6" stroke="#444444" stroke-width="0.6"/><line x1="525.7" y1="95.3" x2="525.7" y2="93.7" stroke="#444444" stroke-width="0.6"/><line x1="525.7" y1="10" x2="525.7" y2="11.6" stroke="#444444" stroke-width="0.6"/><line x1="533.9" y1="95.3" x2="533.9" y2="93.7" stroke="#444444" stroke-width="0.6"/><line x1="533.9" y1="10" x2="533.9" y2="11.6" stroke="#444444" stroke-width="0.6"/><line x1="542.1" y1="95.3" x2="542.1" y2="93.7" stroke="#444444" stroke-width="0.6"/><line x1="542.1" y1="10" x2="542.1" y2="11.6" stroke="#444444" stroke-width="0.6"/><line x1="439.6" y1="67.8" x2="441.2" y2="67.8" stroke="#444444" stroke-width="0.6"/><line x1="546.2" y1="67.8" x2="544.6" y2="67.8" stroke="#444444" stroke-width="0.6"/><line x1="439.6" y1="37.5" x2="441.2" y2="37.5" stroke="#444444" stroke-width="0.6"/><line x1="546.2" y1="37.5" x2="544.6" y2="37.5" stroke="#444444" stroke-width="0.6"/><line x1="439.6" y1="88.98" x2="440.7" y2="88.98" stroke="#444444" stroke-width="0.6"/><line x1="546.2" y1="88.98" x2="545.1" y2="88.98" stroke="#444444" stroke-width="0.6"/><line x1="439.6" y1="83.64" x2="440.7" y2="83.64" stroke="#444444" stroke-width="0.6"/><line x1="546.2" y1="83.64" x2="545.1" y2="83.64" stroke="#444444" stroke-width="0.6"/><line x1="439.6" y1="79.86" x2="440.7" y2="79.86" stroke="#444444" stroke-width="0.6"/><line x1="546.2" y1="79.86" x2="545.1" y2="79.86" stroke="#444444" stroke-width="0.6"/><line x1="439.6" y1="76.92" x2="440.7" y2="76.92" stroke="#444444" stroke-width="0.6"/><line x1="546.2" y1="76.92" x2="545.1" y2="76.92" stroke="#444444" stroke-width="0.6"/><line x1="439.6" y1="74.52" x2="440.7" y2="74.52" stroke="#444444" stroke-width="0.6"/><line x1="546.2" y1="74.52" x2="545.1" y2="74.52" stroke="#444444" stroke-width="0.6"/><line x1="439.6" y1="72.49" x2="440.7" y2="72.49" stroke="#444444" stroke-width="0.6"/><line x1="546.2" y1="72.49" x2="545.1" y2="72.49" stroke="#444444" stroke-width="0.6"/><line x1="439.6" y1="70.74" x2="440.7" y2="70.74" stroke="#444444" stroke-width="0.6"/><line x1="546.2" y1="70.74" x2="545.1" y2="70.74" stroke="#444444" stroke-width="0.6"/><line x1="439.6" y1="69.19" x2="440.7" y2="69.19" stroke="#444444" stroke-width="0.6"/><line x1="546.2" y1="69.19" x2="545.1" y2="69.19" stroke="#444444" stroke-width="0.6"/><line x1="439.6" y1="58.68" x2="440.7" y2="58.68" stroke="#444444" stroke-width="0.6"/><line x1="546.2" y1="58.68" x2="545.1" y2="58.68" stroke="#444444" stroke-width="0.6"/><line x1="439.6" y1="53.34" x2="440.7" y2="53.34" stroke="#444444" stroke-width="0.6"/><line x1="546.2" y1="53.34" x2="545.1" y2="53.34" stroke="#444444" stroke-width="0.6"/><line x1="439.6" y1="49.56" x2="440.7" y2="49.56" stroke="#444444" stroke-width="0.6"/><line x1="546.2" y1="49.56" x2="545.1" y2="49.56" stroke="#444444" stroke-width="0.6"/><line x1="439.6" y1="46.62" x2="440.7" y2="46.62" stroke="#444444" stroke-width="0.6"/><line x1="546.2" y1="46.62" x2="545.1" y2="46.62" stroke="#444444" stroke-width="0.6"/><line x1="439.6" y1="44.22" x2="440.7" y2="44.22" stroke="#444444" stroke-width="0.6"/><line x1="546.2" y1="44.22" x2="545.1" y2="44.22" stroke="#444444" stroke-width="0.6"/><line x1="439.6" y1="42.19" x2="440.7" y2="42.19" stroke="#444444" stroke-width="0.6"/><line x1="546.2" y1="42.19" x2="545.1" y2="42.19" stroke="#444444" stroke-width="0.6"/><line x1="439.6" y1="40.44" x2="440.7" y2="40.44" stroke="#444444" stroke-width="0.6"/><line x1="546.2" y1="40.44" x2="545.1" y2="40.44" stroke="#444444" stroke-width="0.6"/><line x1="439.6" y1="38.89" x2="440.7" y2="38.89" stroke="#444444" stroke-width="0.6"/><line x1="546.2" y1="38.89" x2="545.1" y2="38.89" stroke="#444444" stroke-width="0.6"/><line x1="439.6" y1="28.38" x2="440.7" y2="28.38" stroke="#444444" stroke-width="0.6"/><line x1="546.2" y1="28.38" x2="545.1" y2="28.38" stroke="#444444" stroke-width="0.6"/><line x1="439.6" y1="23.04" x2="440.7" y2="23.04" stroke="#444444" stroke-width="0.6"/><line x1="546.2" y1="23.04" x2="545.1" y2="23.04" stroke="#444444" stroke-width="0.6"/><line x1="439.6" y1="19.26" x2="440.7" y2="19.26" stroke="#444444" stroke-width="0.6"/><line x1="546.2" y1="19.26" x2="545.1" y2="19.26" stroke="#444444" stroke-width="0.6"/><line x1="439.6" y1="16.32" x2="440.7" y2="16.32" stroke="#444444" stroke-width="0.6"/><line x1="546.2" y1="16.32" x2="545.1" y2="16.32" stroke="#444444" stroke-width="0.6"/><line x1="439.6" y1="13.92" x2="440.7" y2="13.92" stroke="#444444" stroke-width="0.6"/><line x1="546.2" y1="13.92" x2="545.1" y2="13.92" stroke="#444444" stroke-width="0.6"/><line x1="439.6" y1="11.89" x2="440.7" y2="11.89" stroke="#444444" stroke-width="0.6"/><line x1="546.2" y1="11.89" x2="545.1" y2="11.89" stroke="#444444" stroke-width="0.6"/><text x="438" y="70.9" text-anchor="end" font-size="6.4" fill="#333333" stroke="#333333" stroke-width="0.08">10<tspan font-size="4.6" dy="-2.8">6</tspan></text><text x="438" y="40.6" text-anchor="end" font-size="6.4" fill="#333333" stroke="#333333" stroke-width="0.08">10<tspan font-size="4.6" dy="-2.8">7</tspan></text><text transform="translate(446.2,97.1) rotate(-90)" text-anchor="end" font-size="6.5" fill="#333333" stroke="#333333" stroke-width="0.08">WOA</text><text transform="translate(454.4,97.1) rotate(-90)" text-anchor="end" font-size="6.5" fill="#333333" stroke="#333333" stroke-width="0.08">WSO</text><text transform="translate(462.6,97.1) rotate(-90)" text-anchor="end" font-size="6.5" fill="#333333" stroke="#333333" stroke-width="0.08">AVOA</text><text transform="translate(470.8,97.1) rotate(-90)" text-anchor="end" font-size="6.5" fill="#333333" stroke="#333333" stroke-width="0.08">RSA</text><text transform="translate(479,97.1) rotate(-90)" text-anchor="end" font-size="6.5" fill="#333333" stroke="#333333" stroke-width="0.08">MPA</text><text transform="translate(487.2,97.1) rotate(-90)" text-anchor="end" font-size="6.5" fill="#333333" stroke="#333333" stroke-width="0.08">TSA</text><text transform="translate(495.4,97.1) rotate(-90)" text-anchor="end" font-size="6.5" fill="#333333" stroke="#333333" stroke-width="0.08">WA</text><text transform="translate(503.6,97.1) rotate(-90)" text-anchor="end" font-size="6.5" fill="#333333" stroke="#333333" stroke-width="0.08">MVO</text><text transform="translate(511.8,97.1) rotate(-90)" text-anchor="end" font-size="6.5" fill="#333333" stroke="#333333" stroke-width="0.08">GWO</text><text transform="translate(520,97.1) rotate(-90)" text-anchor="end" font-size="6.5" fill="#333333" stroke="#333333" stroke-width="0.08">TLBO</text><text transform="translate(528.2,97.1) rotate(-90)" text-anchor="end" font-size="6.5" fill="#333333" stroke="#333333" stroke-width="0.08">GSA</text><text transform="translate(536.4,97.1) rotate(-90)" text-anchor="end" font-size="6.5" fill="#333333" stroke="#333333" stroke-width="0.08">PSO</text><text transform="translate(544.6,97.1) rotate(-90)" text-anchor="end" font-size="6.5" fill="#333333" stroke="#333333" stroke-width="0.08">GA</text><text x="492.9" y="8.4" text-anchor="middle" font-size="7.0" font-weight="bold" fill="#111" stroke="#111" stroke-width="0.3" textLength="26.2" lengthAdjust="spacingAndGlyphs">C11-F16</text><text x="492.9" y="122.1" text-anchor="middle" font-size="7.3" fill="#333333" stroke="#333333" stroke-width="0.08">algorithm</text><text transform="translate(425.6,52.65) rotate(-90)" text-anchor="middle" font-size="7.2" fill="#333333" stroke="#333333" stroke-width="0.08">objective function</text></g>
<g><line x1="24.5" y1="219.5" x2="28.51" y2="219.5" stroke="#ff3030" stroke-width="1.2" stroke-opacity="0.8"/><rect x="32.51" y="142.9" width="4" height="2.7" rx="1.2" fill="none" stroke="#3434ff" stroke-width="0.85"/><line x1="32.91" y1="144.2" x2="36.11" y2="144.2" stroke="#ff3030" stroke-width="1.1"/><rect x="40.32" y="153.9" width="4.4" height="2.2" rx="1" fill="#4a1095"/><line x1="50.53" y1="141.6" x2="50.53" y2="142.2" stroke="#000" stroke-width="0.5" stroke-opacity="0.5"/><line x1="49.43" y1="142.2" x2="51.63" y2="142.2" stroke="#111" stroke-width="0.9"/><rect x="48.52" y="137.4" width="4" height="4.2" rx="0.8" fill="none" stroke="#3434ff" stroke-width="0.85"/><line x1="48.92" y1="139.6" x2="52.13" y2="139.6" stroke="#ff3030" stroke-width="1.1"/><rect x="56.53" y="168" width="4" height="3.8" rx="1.2" fill="none" stroke="#3434ff" stroke-width="0.85"/><line x1="56.93" y1="169.9" x2="60.14" y2="169.9" stroke="#ff3030" stroke-width="1.1"/><rect x="64.54" y="157.8" width="4" height="3.5" rx="1.2" fill="none" stroke="#3434ff" stroke-width="0.85"/><line x1="64.94" y1="159.5" x2="68.14" y2="159.5" stroke="#ff3030" stroke-width="1.1"/><line x1="74.55" y1="140.9" x2="74.55" y2="141.4" stroke="#000" stroke-width="0.5" stroke-opacity="0.5"/><line x1="73.45" y1="140.9" x2="75.65" y2="140.9" stroke="#111" stroke-width="0.9"/><line x1="74.55" y1="145.9" x2="74.55" y2="146.6" stroke="#000" stroke-width="0.5" stroke-opacity="0.5"/><line x1="73.45" y1="146.6" x2="75.65" y2="146.6" stroke="#111" stroke-width="0.9"/><rect x="72.55" y="141.4" width="4" height="4.5" rx="0.8" fill="none" stroke="#3434ff" stroke-width="0.85"/><line x1="72.95" y1="143.4" x2="76.15" y2="143.4" stroke="#ff3030" stroke-width="1.1"/><rect x="80.56" y="168" width="4" height="3.8" rx="1.2" fill="none" stroke="#3434ff" stroke-width="0.85"/><line x1="80.96" y1="169.9" x2="84.16" y2="169.9" stroke="#ff3030" stroke-width="1.1"/><rect x="88.56" y="168" width="4" height="3.8" rx="1.2" fill="none" stroke="#3434ff" stroke-width="0.85"/><line x1="88.96" y1="169.9" x2="92.17" y2="169.9" stroke="#ff3030" stroke-width="1.1"/><rect x="96.37" y="135.3" width="4.4" height="1.4" rx="0.7" fill="#b01860"/><rect x="104.38" y="141.6" width="4.4" height="1.4" rx="0.7" fill="#5a1090"/><rect x="112.59" y="135.4" width="4" height="2.4" rx="1.2" fill="none" stroke="#3434ff" stroke-width="0.85"/><line x1="112.99" y1="136.6" x2="116.19" y2="136.6" stroke="#ff3030" stroke-width="1.1"/><rect x="120.39" y="135.3" width="4.4" height="1.4" rx="0.7" fill="#8a1488"/><rect x="22.5" y="134.7" width="104.1" height="85.3" fill="none" stroke="#444444" stroke-width="0.9"/><line x1="26.5" y1="220" x2="26.5" y2="218.4" stroke="#444444" stroke-width="0.6"/><line x1="26.5" y1="134.7" x2="26.5" y2="136.3" stroke="#444444" stroke-width="0.6"/><line x1="34.51" y1="220" x2="34.51" y2="218.4" stroke="#444444" stroke-width="0.6"/><line x1="34.51" y1="134.7" x2="34.51" y2="136.3" stroke="#444444" stroke-width="0.6"/><line x1="42.52" y1="220" x2="42.52" y2="218.4" stroke="#444444" stroke-width="0.6"/><line x1="42.52" y1="134.7" x2="42.52" y2="136.3" stroke="#444444" stroke-width="0.6"/><line x1="50.53" y1="220" x2="50.53" y2="218.4" stroke="#444444" stroke-width="0.6"/><line x1="50.53" y1="134.7" x2="50.53" y2="136.3" stroke="#444444" stroke-width="0.6"/><line x1="58.53" y1="220" x2="58.53" y2="218.4" stroke="#444444" stroke-width="0.6"/><line x1="58.53" y1="134.7" x2="58.53" y2="136.3" stroke="#444444" stroke-width="0.6"/><line x1="66.54" y1="220" x2="66.54" y2="218.4" stroke="#444444" stroke-width="0.6"/><line x1="66.54" y1="134.7" x2="66.54" y2="136.3" stroke="#444444" stroke-width="0.6"/><line x1="74.55" y1="220" x2="74.55" y2="218.4" stroke="#444444" stroke-width="0.6"/><line x1="74.55" y1="134.7" x2="74.55" y2="136.3" stroke="#444444" stroke-width="0.6"/><line x1="82.56" y1="220" x2="82.56" y2="218.4" stroke="#444444" stroke-width="0.6"/><line x1="82.56" y1="134.7" x2="82.56" y2="136.3" stroke="#444444" stroke-width="0.6"/><line x1="90.57" y1="220" x2="90.57" y2="218.4" stroke="#444444" stroke-width="0.6"/><line x1="90.57" y1="134.7" x2="90.57" y2="136.3" stroke="#444444" stroke-width="0.6"/><line x1="98.57" y1="220" x2="98.57" y2="218.4" stroke="#444444" stroke-width="0.6"/><line x1="98.57" y1="134.7" x2="98.57" y2="136.3" stroke="#444444" stroke-width="0.6"/><line x1="106.58" y1="220" x2="106.58" y2="218.4" stroke="#444444" stroke-width="0.6"/><line x1="106.58" y1="134.7" x2="106.58" y2="136.3" stroke="#444444" stroke-width="0.6"/><line x1="114.59" y1="220" x2="114.59" y2="218.4" stroke="#444444" stroke-width="0.6"/><line x1="114.59" y1="134.7" x2="114.59" y2="136.3" stroke="#444444" stroke-width="0.6"/><line x1="122.6" y1="220" x2="122.6" y2="218.4" stroke="#444444" stroke-width="0.6"/><line x1="122.6" y1="134.7" x2="122.6" y2="136.3" stroke="#444444" stroke-width="0.6"/><line x1="22.5" y1="185" x2="24.1" y2="185" stroke="#444444" stroke-width="0.6"/><line x1="126.6" y1="185" x2="125" y2="185" stroke="#444444" stroke-width="0.6"/><line x1="22.5" y1="141" x2="24.1" y2="141" stroke="#444444" stroke-width="0.6"/><line x1="126.6" y1="141" x2="125" y2="141" stroke="#444444" stroke-width="0.6"/><line x1="22.5" y1="218.5" x2="23.6" y2="218.5" stroke="#444444" stroke-width="0.6"/><line x1="126.6" y1="218.5" x2="125.5" y2="218.5" stroke="#444444" stroke-width="0.6"/><line x1="22.5" y1="215.75" x2="23.6" y2="215.75" stroke="#444444" stroke-width="0.6"/><line x1="126.6" y1="215.75" x2="125.5" y2="215.75" stroke="#444444" stroke-width="0.6"/><line x1="22.5" y1="213.62" x2="23.6" y2="213.62" stroke="#444444" stroke-width="0.6"/><line x1="126.6" y1="213.62" x2="125.5" y2="213.62" stroke="#444444" stroke-width="0.6"/><line x1="22.5" y1="211.88" x2="23.6" y2="211.88" stroke="#444444" stroke-width="0.6"/><line x1="126.6" y1="211.88" x2="125.5" y2="211.88" stroke="#444444" stroke-width="0.6"/><line x1="22.5" y1="210.41" x2="23.6" y2="210.41" stroke="#444444" stroke-width="0.6"/><line x1="126.6" y1="210.41" x2="125.5" y2="210.41" stroke="#444444" stroke-width="0.6"/><line x1="22.5" y1="209.13" x2="23.6" y2="209.13" stroke="#444444" stroke-width="0.6"/><line x1="126.6" y1="209.13" x2="125.5" y2="209.13" stroke="#444444" stroke-width="0.6"/><line x1="22.5" y1="208.01" x2="23.6" y2="208.01" stroke="#444444" stroke-width="0.6"/><line x1="126.6" y1="208.01" x2="125.5" y2="208.01" stroke="#444444" stroke-width="0.6"/><line x1="22.5" y1="200.38" x2="23.6" y2="200.38" stroke="#444444" stroke-width="0.6"/><line x1="126.6" y1="200.38" x2="125.5" y2="200.38" stroke="#444444" stroke-width="0.6"/><line x1="22.5" y1="196.5" x2="23.6" y2="196.5" stroke="#444444" stroke-width="0.6"/><line x1="126.6" y1="196.5" x2="125.5" y2="196.5" stroke="#444444" stroke-width="0.6"/><line x1="22.5" y1="193.75" x2="23.6" y2="193.75" stroke="#444444" stroke-width="0.6"/><line x1="126.6" y1="193.75" x2="125.5" y2="193.75" stroke="#444444" stroke-width="0.6"/><line x1="22.5" y1="191.62" x2="23.6" y2="191.62" stroke="#444444" stroke-width="0.6"/><line x1="126.6" y1="191.62" x2="125.5" y2="191.62" stroke="#444444" stroke-width="0.6"/><line x1="22.5" y1="189.88" x2="23.6" y2="189.88" stroke="#444444" stroke-width="0.6"/><line x1="126.6" y1="189.88" x2="125.5" y2="189.88" stroke="#444444" stroke-width="0.6"/><line x1="22.5" y1="188.41" x2="23.6" y2="188.41" stroke="#444444" stroke-width="0.6"/><line x1="126.6" y1="188.41" x2="125.5" y2="188.41" stroke="#444444" stroke-width="0.6"/><line x1="22.5" y1="187.13" x2="23.6" y2="187.13" stroke="#444444" stroke-width="0.6"/><line x1="126.6" y1="187.13" x2="125.5" y2="187.13" stroke="#444444" stroke-width="0.6"/><line x1="22.5" y1="186.01" x2="23.6" y2="186.01" stroke="#444444" stroke-width="0.6"/><line x1="126.6" y1="186.01" x2="125.5" y2="186.01" stroke="#444444" stroke-width="0.6"/><line x1="22.5" y1="178.38" x2="23.6" y2="178.38" stroke="#444444" stroke-width="0.6"/><line x1="126.6" y1="178.38" x2="125.5" y2="178.38" stroke="#444444" stroke-width="0.6"/><line x1="22.5" y1="174.5" x2="23.6" y2="174.5" stroke="#444444" stroke-width="0.6"/><line x1="126.6" y1="174.5" x2="125.5" y2="174.5" stroke="#444444" stroke-width="0.6"/><line x1="22.5" y1="171.75" x2="23.6" y2="171.75" stroke="#444444" stroke-width="0.6"/><line x1="126.6" y1="171.75" x2="125.5" y2="171.75" stroke="#444444" stroke-width="0.6"/><line x1="22.5" y1="169.62" x2="23.6" y2="169.62" stroke="#444444" stroke-width="0.6"/><line x1="126.6" y1="169.62" x2="125.5" y2="169.62" stroke="#444444" stroke-width="0.6"/><line x1="22.5" y1="167.88" x2="23.6" y2="167.88" stroke="#444444" stroke-width="0.6"/><line x1="126.6" y1="167.88" x2="125.5" y2="167.88" stroke="#444444" stroke-width="0.6"/><line x1="22.5" y1="166.41" x2="23.6" y2="166.41" stroke="#444444" stroke-width="0.6"/><line x1="126.6" y1="166.41" x2="125.5" y2="166.41" stroke="#444444" stroke-width="0.6"/><line x1="22.5" y1="165.13" x2="23.6" y2="165.13" stroke="#444444" stroke-width="0.6"/><line x1="126.6" y1="165.13" x2="125.5" y2="165.13" stroke="#444444" stroke-width="0.6"/><line x1="22.5" y1="164.01" x2="23.6" y2="164.01" stroke="#444444" stroke-width="0.6"/><line x1="126.6" y1="164.01" x2="125.5" y2="164.01" stroke="#444444" stroke-width="0.6"/><line x1="22.5" y1="156.38" x2="23.6" y2="156.38" stroke="#444444" stroke-width="0.6"/><line x1="126.6" y1="156.38" x2="125.5" y2="156.38" stroke="#444444" stroke-width="0.6"/><line x1="22.5" y1="152.5" x2="23.6" y2="152.5" stroke="#444444" stroke-width="0.6"/><line x1="126.6" y1="152.5" x2="125.5" y2="152.5" stroke="#444444" stroke-width="0.6"/><line x1="22.5" y1="149.75" x2="23.6" y2="149.75" stroke="#444444" stroke-width="0.6"/><line x1="126.6" y1="149.75" x2="125.5" y2="149.75" stroke="#444444" stroke-width="0.6"/><line x1="22.5" y1="147.62" x2="23.6" y2="147.62" stroke="#444444" stroke-width="0.6"/><line x1="126.6" y1="147.62" x2="125.5" y2="147.62" stroke="#444444" stroke-width="0.6"/><line x1="22.5" y1="145.88" x2="23.6" y2="145.88" stroke="#444444" stroke-width="0.6"/><line x1="126.6" y1="145.88" x2="125.5" y2="145.88" stroke="#444444" stroke-width="0.6"/><line x1="22.5" y1="144.41" x2="23.6" y2="144.41" stroke="#444444" stroke-width="0.6"/><line x1="126.6" y1="144.41" x2="125.5" y2="144.41" stroke="#444444" stroke-width="0.6"/><line x1="22.5" y1="143.13" x2="23.6" y2="143.13" stroke="#444444" stroke-width="0.6"/><line x1="126.6" y1="143.13" x2="125.5" y2="143.13" stroke="#444444" stroke-width="0.6"/><line x1="22.5" y1="142.01" x2="23.6" y2="142.01" stroke="#444444" stroke-width="0.6"/><line x1="126.6" y1="142.01" x2="125.5" y2="142.01" stroke="#444444" stroke-width="0.6"/><text x="20.9" y="188.1" text-anchor="end" font-size="6.4" fill="#333333" stroke="#333333" stroke-width="0.08">10<tspan font-size="4.6" dy="-2.8">8</tspan></text><text x="20.9" y="144.1" text-anchor="end" font-size="6.4" fill="#333333" stroke="#333333" stroke-width="0.08">10<tspan font-size="4.6" dy="-2.8">10</tspan></text><text transform="translate(29,221.8) rotate(-90)" text-anchor="end" font-size="6.5" fill="#333333" stroke="#333333" stroke-width="0.08">WOA</text><text transform="translate(37.01,221.8) rotate(-90)" text-anchor="end" font-size="6.5" fill="#333333" stroke="#333333" stroke-width="0.08">WSO</text><text transform="translate(45.02,221.8) rotate(-90)" text-anchor="end" font-size="6.5" fill="#333333" stroke="#333333" stroke-width="0.08">AVOA</text><text transform="translate(53.03,221.8) rotate(-90)" text-anchor="end" font-size="6.5" fill="#333333" stroke="#333333" stroke-width="0.08">RSA</text><text transform="translate(61.03,221.8) rotate(-90)" text-anchor="end" font-size="6.5" fill="#333333" stroke="#333333" stroke-width="0.08">MPA</text><text transform="translate(69.04,221.8) rotate(-90)" text-anchor="end" font-size="6.5" fill="#333333" stroke="#333333" stroke-width="0.08">TSA</text><text transform="translate(77.05,221.8) rotate(-90)" text-anchor="end" font-size="6.5" fill="#333333" stroke="#333333" stroke-width="0.08">WA</text><text transform="translate(85.06,221.8) rotate(-90)" text-anchor="end" font-size="6.5" fill="#333333" stroke="#333333" stroke-width="0.08">MVO</text><text transform="translate(93.07,221.8) rotate(-90)" text-anchor="end" font-size="6.5" fill="#333333" stroke="#333333" stroke-width="0.08">GWO</text><text transform="translate(101.07,221.8) rotate(-90)" text-anchor="end" font-size="6.5" fill="#333333" stroke="#333333" stroke-width="0.08">TLBO</text><text transform="translate(109.08,221.8) rotate(-90)" text-anchor="end" font-size="6.5" fill="#333333" stroke="#333333" stroke-width="0.08">GSA</text><text transform="translate(117.09,221.8) rotate(-90)" text-anchor="end" font-size="6.5" fill="#333333" stroke="#333333" stroke-width="0.08">PSO</text><text transform="translate(125.1,221.8) rotate(-90)" text-anchor="end" font-size="6.5" fill="#333333" stroke="#333333" stroke-width="0.08">GA</text><text x="74.55" y="133.1" text-anchor="middle" font-size="7.0" font-weight="bold" fill="#111" stroke="#111" stroke-width="0.3" textLength="26.2" lengthAdjust="spacingAndGlyphs">C11-F17</text><text x="74.55" y="246.8" text-anchor="middle" font-size="7.3" fill="#333333" stroke="#333333" stroke-width="0.08">algorithm</text><text transform="translate(8.5,177.35) rotate(-90)" text-anchor="middle" font-size="7.2" fill="#333333" stroke="#333333" stroke-width="0.08">objective function</text></g>
<g><line x1="162.44" y1="219.4" x2="166.53" y2="219.4" stroke="#ff3030" stroke-width="1.2" stroke-opacity="0.8"/><rect x="172.05" y="158.7" width="1.2" height="1.4" fill="#333"/><rect x="170.61" y="152" width="4.08" height="4.5" rx="0.8" fill="none" stroke="#3434ff" stroke-width="0.85"/><line x1="171.01" y1="152.6" x2="174.3" y2="152.6" stroke="#ff3030" stroke-width="1.1"/><line x1="180.82" y1="183.4" x2="180.82" y2="184.2" stroke="#000" stroke-width="0.5" stroke-opacity="0.5"/><line x1="179.72" y1="183.4" x2="181.92" y2="183.4" stroke="#111" stroke-width="0.9"/><line x1="180.82" y1="196.6" x2="180.82" y2="197.3" stroke="#000" stroke-width="0.5" stroke-opacity="0.5"/><line x1="179.72" y1="197.3" x2="181.92" y2="197.3" stroke="#111" stroke-width="0.9"/><rect x="180.22" y="180.3" width="1.2" height="1.4" fill="#333"/><rect x="178.78" y="184.2" width="4.08" height="12.4" rx="0.4" fill="none" stroke="#3434ff" stroke-width="0.85"/><line x1="179.18" y1="191.8" x2="182.47" y2="191.8" stroke="#ff3030" stroke-width="1.1"/><rect x="188.39" y="145.9" width="1.2" height="1.4" fill="#333"/><rect x="186.95" y="138.6" width="4.08" height="4.8" rx="0.8" fill="none" stroke="#3434ff" stroke-width="0.85"/><line x1="187.35" y1="139.2" x2="190.63" y2="139.2" stroke="#ff3030" stroke-width="1.1"/><rect x="195.12" y="212.2" width="4.08" height="3.2" rx="1.2" fill="none" stroke="#3434ff" stroke-width="0.85"/><line x1="195.52" y1="213.8" x2="198.8" y2="213.8" stroke="#ff3030" stroke-width="1.1"/><line x1="205.33" y1="202.8" x2="205.33" y2="203.7" stroke="#000" stroke-width="0.5" stroke-opacity="0.5"/><line x1="204.23" y1="202.8" x2="206.43" y2="202.8" stroke="#111" stroke-width="0.9"/><rect x="203.29" y="203.7" width="4.08" height="4.4" rx="0.8" fill="none" stroke="#3434ff" stroke-width="0.85"/><line x1="203.69" y1="206.2" x2="206.97" y2="206.2" stroke="#ff3030" stroke-width="1.1"/><line x1="213.5" y1="174.5" x2="213.5" y2="178.1" stroke="#000" stroke-width="0.5" stroke-opacity="0.5"/><line x1="212.4" y1="174.5" x2="214.6" y2="174.5" stroke="#111" stroke-width="0.9"/><rect x="212.9" y="194.6" width="1.2" height="1.4" fill="#333"/><rect x="211.46" y="178.1" width="4.08" height="13.4" rx="0.4" fill="none" stroke="#3434ff" stroke-width="0.85"/><line x1="211.86" y1="185" x2="215.14" y2="185" stroke="#ff3030" stroke-width="1.1"/><rect x="219.63" y="212.3" width="4.08" height="2.9" rx="1.2" fill="none" stroke="#3434ff" stroke-width="0.85"/><line x1="220.03" y1="213.7" x2="223.31" y2="213.7" stroke="#ff3030" stroke-width="1.1"/><rect x="227.8" y="212.2" width="4.08" height="2.6" rx="1.2" fill="none" stroke="#3434ff" stroke-width="0.85"/><line x1="228.2" y1="213.5" x2="231.48" y2="213.5" stroke="#ff3030" stroke-width="1.1"/><rect x="237.41" y="166.9" width="1.2" height="1.4" fill="#333"/><rect x="235.97" y="162.2" width="4.08" height="3.4" rx="1.2" fill="none" stroke="#3434ff" stroke-width="0.85"/><line x1="236.37" y1="163" x2="239.65" y2="163" stroke="#ff3030" stroke-width="1.1"/><line x1="246.18" y1="177.3" x2="246.18" y2="178.5" stroke="#000" stroke-width="0.5" stroke-opacity="0.5"/><line x1="245.08" y1="177.3" x2="247.28" y2="177.3" stroke="#111" stroke-width="0.9"/><line x1="246.18" y1="184.5" x2="246.18" y2="185.7" stroke="#000" stroke-width="0.5" stroke-opacity="0.5"/><line x1="245.08" y1="185.7" x2="247.28" y2="185.7" stroke="#111" stroke-width="0.9"/><rect x="244.13" y="178.5" width="4.08" height="6" rx="0.8" fill="none" stroke="#3434ff" stroke-width="0.85"/><line x1="244.53" y1="181.3" x2="247.82" y2="181.3" stroke="#ff3030" stroke-width="1.1"/><line x1="254.35" y1="140.6" x2="254.35" y2="140.9" stroke="#000" stroke-width="0.5" stroke-opacity="0.5"/><line x1="253.25" y1="140.9" x2="255.45" y2="140.9" stroke="#111" stroke-width="0.9"/><rect x="252.3" y="136.6" width="4.08" height="4" rx="1.2" fill="none" stroke="#3434ff" stroke-width="0.85"/><line x1="252.7" y1="137.9" x2="255.99" y2="137.9" stroke="#ff3030" stroke-width="1.1"/><rect x="260.27" y="140.4" width="4.48" height="1.4" rx="0.7" fill="#4a1078"/><rect x="160.4" y="134.7" width="106.2" height="85.3" fill="none" stroke="#444444" stroke-width="0.9"/><line x1="164.48" y1="220" x2="164.48" y2="218.4" stroke="#444444" stroke-width="0.6"/><line x1="164.48" y1="134.7" x2="164.48" y2="136.3" stroke="#444444" stroke-width="0.6"/><line x1="172.65" y1="220" x2="172.65" y2="218.4" stroke="#444444" stroke-width="0.6"/><line x1="172.65" y1="134.7" x2="172.65" y2="136.3" stroke="#444444" stroke-width="0.6"/><line x1="180.82" y1="220" x2="180.82" y2="218.4" stroke="#444444" stroke-width="0.6"/><line x1="180.82" y1="134.7" x2="180.82" y2="136.3" stroke="#444444" stroke-width="0.6"/><line x1="188.99" y1="220" x2="188.99" y2="218.4" stroke="#444444" stroke-width="0.6"/><line x1="188.99" y1="134.7" x2="188.99" y2="136.3" stroke="#444444" stroke-width="0.6"/><line x1="197.16" y1="220" x2="197.16" y2="218.4" stroke="#444444" stroke-width="0.6"/><line x1="197.16" y1="134.7" x2="197.16" y2="136.3" stroke="#444444" stroke-width="0.6"/><line x1="205.33" y1="220" x2="205.33" y2="218.4" stroke="#444444" stroke-width="0.6"/><line x1="205.33" y1="134.7" x2="205.33" y2="136.3" stroke="#444444" stroke-width="0.6"/><line x1="213.5" y1="220" x2="213.5" y2="218.4" stroke="#444444" stroke-width="0.6"/><line x1="213.5" y1="134.7" x2="213.5" y2="136.3" stroke="#444444" stroke-width="0.6"/><line x1="221.67" y1="220" x2="221.67" y2="218.4" stroke="#444444" stroke-width="0.6"/><line x1="221.67" y1="134.7" x2="221.67" y2="136.3" stroke="#444444" stroke-width="0.6"/><line x1="229.84" y1="220" x2="229.84" y2="218.4" stroke="#444444" stroke-width="0.6"/><line x1="229.84" y1="134.7" x2="229.84" y2="136.3" stroke="#444444" stroke-width="0.6"/><line x1="238.01" y1="220" x2="238.01" y2="218.4" stroke="#444444" stroke-width="0.6"/><line x1="238.01" y1="134.7" x2="238.01" y2="136.3" stroke="#444444" stroke-width="0.6"/><line x1="246.18" y1="220" x2="246.18" y2="218.4" stroke="#444444" stroke-width="0.6"/><line x1="246.18" y1="134.7" x2="246.18" y2="136.3" stroke="#444444" stroke-width="0.6"/><line x1="254.35" y1="220" x2="254.35" y2="218.4" stroke="#444444" stroke-width="0.6"/><line x1="254.35" y1="134.7" x2="254.35" y2="136.3" stroke="#444444" stroke-width="0.6"/><line x1="262.52" y1="220" x2="262.52" y2="218.4" stroke="#444444" stroke-width="0.6"/><line x1="262.52" y1="134.7" x2="262.52" y2="136.3" stroke="#444444" stroke-width="0.6"/><line x1="160.4" y1="219.5" x2="162" y2="219.5" stroke="#444444" stroke-width="0.6"/><line x1="266.6" y1="219.5" x2="265" y2="219.5" stroke="#444444" stroke-width="0.6"/><line x1="160.4" y1="178.8" x2="162" y2="178.8" stroke="#444444" stroke-width="0.6"/><line x1="266.6" y1="178.8" x2="265" y2="178.8" stroke="#444444" stroke-width="0.6"/><line x1="160.4" y1="138.1" x2="162" y2="138.1" stroke="#444444" stroke-width="0.6"/><line x1="266.6" y1="138.1" x2="265" y2="138.1" stroke="#444444" stroke-width="0.6"/><line x1="160.4" y1="207.25" x2="161.5" y2="207.25" stroke="#444444" stroke-width="0.6"/><line x1="266.6" y1="207.25" x2="265.5" y2="207.25" stroke="#444444" stroke-width="0.6"/><line x1="160.4" y1="200.08" x2="161.5" y2="200.08" stroke="#444444" stroke-width="0.6"/><line x1="266.6" y1="200.08" x2="265.5" y2="200.08" stroke="#444444" stroke-width="0.6"/><line x1="160.4" y1="195" x2="161.5" y2="195" stroke="#444444" stroke-width="0.6"/><line x1="266.6" y1="195" x2="265.5" y2="195" stroke="#444444" stroke-width="0.6"/><line x1="160.4" y1="191.05" x2="161.5" y2="191.05" stroke="#444444" stroke-width="0.6"/><line x1="266.6" y1="191.05" x2="265.5" y2="191.05" stroke="#444444" stroke-width="0.6"/><line x1="160.4" y1="187.83" x2="161.5" y2="187.83" stroke="#444444" stroke-width="0.6"/><line x1="266.6" y1="187.83" x2="265.5" y2="187.83" stroke="#444444" stroke-width="0.6"/><line x1="160.4" y1="185.1" x2="161.5" y2="185.1" stroke="#444444" stroke-width="0.6"/><line x1="266.6" y1="185.1" x2="265.5" y2="185.1" stroke="#444444" stroke-width="0.6"/><line x1="160.4" y1="182.74" x2="161.5" y2="182.74" stroke="#444444" stroke-width="0.6"/><line x1="266.6" y1="182.74" x2="265.5" y2="182.74" stroke="#444444" stroke-width="0.6"/><line x1="160.4" y1="180.66" x2="161.5" y2="180.66" stroke="#444444" stroke-width="0.6"/><line x1="266.6" y1="180.66" x2="265.5" y2="180.66" stroke="#444444" stroke-width="0.6"/><line x1="160.4" y1="166.55" x2="161.5" y2="166.55" stroke="#444444" stroke-width="0.6"/><line x1="266.6" y1="166.55" x2="265.5" y2="166.55" stroke="#444444" stroke-width="0.6"/><line x1="160.4" y1="159.38" x2="161.5" y2="159.38" stroke="#444444" stroke-width="0.6"/><line x1="266.6" y1="159.38" x2="265.5" y2="159.38" stroke="#444444" stroke-width="0.6"/><line x1="160.4" y1="154.3" x2="161.5" y2="154.3" stroke="#444444" stroke-width="0.6"/><line x1="266.6" y1="154.3" x2="265.5" y2="154.3" stroke="#444444" stroke-width="0.6"/><line x1="160.4" y1="150.35" x2="161.5" y2="150.35" stroke="#444444" stroke-width="0.6"/><line x1="266.6" y1="150.35" x2="265.5" y2="150.35" stroke="#444444" stroke-width="0.6"/><line x1="160.4" y1="147.13" x2="161.5" y2="147.13" stroke="#444444" stroke-width="0.6"/><line x1="266.6" y1="147.13" x2="265.5" y2="147.13" stroke="#444444" stroke-width="0.6"/><line x1="160.4" y1="144.4" x2="161.5" y2="144.4" stroke="#444444" stroke-width="0.6"/><line x1="266.6" y1="144.4" x2="265.5" y2="144.4" stroke="#444444" stroke-width="0.6"/><line x1="160.4" y1="142.04" x2="161.5" y2="142.04" stroke="#444444" stroke-width="0.6"/><line x1="266.6" y1="142.04" x2="265.5" y2="142.04" stroke="#444444" stroke-width="0.6"/><line x1="160.4" y1="139.96" x2="161.5" y2="139.96" stroke="#444444" stroke-width="0.6"/><line x1="266.6" y1="139.96" x2="265.5" y2="139.96" stroke="#444444" stroke-width="0.6"/><text x="158.8" y="222.6" text-anchor="end" font-size="6.4" fill="#333333" stroke="#333333" stroke-width="0.08">10<tspan font-size="4.6" dy="-2.8">6</tspan></text><text x="158.8" y="181.9" text-anchor="end" font-size="6.4" fill="#333333" stroke="#333333" stroke-width="0.08">10<tspan font-size="4.6" dy="-2.8">7</tspan></text><text x="158.8" y="141.2" text-anchor="end" font-size="6.4" fill="#333333" stroke="#333333" stroke-width="0.08">10<tspan font-size="4.6" dy="-2.8">8</tspan></text><text transform="translate(166.98,221.8) rotate(-90)" text-anchor="end" font-size="6.5" fill="#333333" stroke="#333333" stroke-width="0.08">WOA</text><text transform="translate(175.15,221.8) rotate(-90)" text-anchor="end" font-size="6.5" fill="#333333" stroke="#333333" stroke-width="0.08">WSO</text><text transform="translate(183.32,221.8) rotate(-90)" text-anchor="end" font-size="6.5" fill="#333333" stroke="#333333" stroke-width="0.08">AVOA</text><text transform="translate(191.49,221.8) rotate(-90)" text-anchor="end" font-size="6.5" fill="#333333" stroke="#333333" stroke-width="0.08">RSA</text><text transform="translate(199.66,221.8) rotate(-90)" text-anchor="end" font-size="6.5" fill="#333333" stroke="#333333" stroke-width="0.08">MPA</text><text transform="translate(207.83,221.8) rotate(-90)" text-anchor="end" font-size="6.5" fill="#333333" stroke="#333333" stroke-width="0.08">TSA</text><text transform="translate(216,221.8) rotate(-90)" text-anchor="end" font-size="6.5" fill="#333333" stroke="#333333" stroke-width="0.08">WA</text><text transform="translate(224.17,221.8) rotate(-90)" text-anchor="end" font-size="6.5" fill="#333333" stroke="#333333" stroke-width="0.08">MVO</text><text transform="translate(232.34,221.8) rotate(-90)" text-anchor="end" font-size="6.5" fill="#333333" stroke="#333333" stroke-width="0.08">GWO</text><text transform="translate(240.51,221.8) rotate(-90)" text-anchor="end" font-size="6.5" fill="#333333" stroke="#333333" stroke-width="0.08">TLBO</text><text transform="translate(248.68,221.8) rotate(-90)" text-anchor="end" font-size="6.5" fill="#333333" stroke="#333333" stroke-width="0.08">GSA</text><text transform="translate(256.85,221.8) rotate(-90)" text-anchor="end" font-size="6.5" fill="#333333" stroke="#333333" stroke-width="0.08">PSO</text><text transform="translate(265.02,221.8) rotate(-90)" text-anchor="end" font-size="6.5" fill="#333333" stroke="#333333" stroke-width="0.08">GA</text><text x="213.5" y="133.1" text-anchor="middle" font-size="7.0" font-weight="bold" fill="#111" stroke="#111" stroke-width="0.3" textLength="26.2" lengthAdjust="spacingAndGlyphs">C11-F18</text><text x="213.5" y="246.8" text-anchor="middle" font-size="7.3" fill="#333333" stroke="#333333" stroke-width="0.08">algorithm</text><text transform="translate(146.4,177.35) rotate(-90)" text-anchor="middle" font-size="7.2" fill="#333333" stroke="#333333" stroke-width="0.08">objective function</text></g>
<g><rect x="301.95" y="217.6" width="4.1" height="2.4" rx="1.2" fill="none" stroke="#3434ff" stroke-width="0.85"/><line x1="302.35" y1="219" x2="305.66" y2="219" stroke="#ff3030" stroke-width="1.1"/><line x1="312.21" y1="153.5" x2="312.21" y2="155.4" stroke="#000" stroke-width="0.5" stroke-opacity="0.5"/><line x1="311.11" y1="153.5" x2="313.31" y2="153.5" stroke="#111" stroke-width="0.9"/><rect x="310.16" y="155.4" width="4.1" height="4.6" rx="0.8" fill="none" stroke="#3434ff" stroke-width="0.85"/><line x1="310.56" y1="158.5" x2="313.86" y2="158.5" stroke="#ff3030" stroke-width="1.1"/><line x1="320.42" y1="187.8" x2="320.42" y2="189" stroke="#000" stroke-width="0.5" stroke-opacity="0.5"/><line x1="319.32" y1="187.8" x2="321.52" y2="187.8" stroke="#111" stroke-width="0.9"/><rect x="318.37" y="189" width="4.1" height="3.3" rx="1.2" fill="none" stroke="#3434ff" stroke-width="0.85"/><line x1="318.77" y1="191" x2="322.07" y2="191" stroke="#ff3030" stroke-width="1.1"/><line x1="328.63" y1="140.6" x2="328.63" y2="142.5" stroke="#000" stroke-width="0.5" stroke-opacity="0.5"/><line x1="327.53" y1="140.6" x2="329.73" y2="140.6" stroke="#111" stroke-width="0.9"/><rect x="326.57" y="142.5" width="4.1" height="4.9" rx="0.8" fill="none" stroke="#3434ff" stroke-width="0.85"/><line x1="326.97" y1="145.7" x2="330.28" y2="145.7" stroke="#ff3030" stroke-width="1.1"/><rect x="334.78" y="210.3" width="4.1" height="2.7" rx="1.2" fill="none" stroke="#3434ff" stroke-width="0.85"/><line x1="335.18" y1="211.7" x2="338.49" y2="211.7" stroke="#ff3030" stroke-width="1.1"/><line x1="345.04" y1="201" x2="345.04" y2="202" stroke="#000" stroke-width="0.5" stroke-opacity="0.5"/><line x1="343.94" y1="201" x2="346.14" y2="201" stroke="#111" stroke-width="0.9"/><rect x="342.99" y="202" width="4.1" height="3.6" rx="1.2" fill="none" stroke="#3434ff" stroke-width="0.85"/><line x1="343.39" y1="203.8" x2="346.69" y2="203.8" stroke="#ff3030" stroke-width="1.1"/><line x1="353.25" y1="175.2" x2="353.25" y2="176.2" stroke="#000" stroke-width="0.5" stroke-opacity="0.5"/><line x1="352.15" y1="175.2" x2="354.35" y2="175.2" stroke="#111" stroke-width="0.9"/><line x1="353.25" y1="198.3" x2="353.25" y2="199.7" stroke="#000" stroke-width="0.5" stroke-opacity="0.5"/><line x1="352.15" y1="199.7" x2="354.35" y2="199.7" stroke="#111" stroke-width="0.9"/><rect x="352.65" y="203.5" width="1.2" height="1.4" fill="#333"/><rect x="351.2" y="176.2" width="4.1" height="22.1" rx="0.4" fill="none" stroke="#3434ff" stroke-width="0.85"/><line x1="351.6" y1="184.2" x2="354.9" y2="184.2" stroke="#ff3030" stroke-width="1.1"/><line x1="361.46" y1="206.5" x2="361.46" y2="207.9" stroke="#000" stroke-width="0.5" stroke-opacity="0.5"/><line x1="360.36" y1="206.5" x2="362.56" y2="206.5" stroke="#111" stroke-width="0.9"/><rect x="359.41" y="207.9" width="4.1" height="2.8" rx="1.2" fill="none" stroke="#3434ff" stroke-width="0.85"/><line x1="359.81" y1="209.7" x2="363.11" y2="209.7" stroke="#ff3030" stroke-width="1.1"/><rect x="367.61" y="208.5" width="4.1" height="3.3" rx="1.2" fill="none" stroke="#3434ff" stroke-width="0.85"/><line x1="368.01" y1="210.2" x2="371.32" y2="210.2" stroke="#ff3030" stroke-width="1.1"/><line x1="377.87" y1="160.5" x2="377.87" y2="161.1" stroke="#000" stroke-width="0.5" stroke-opacity="0.5"/><line x1="376.77" y1="160.5" x2="378.97" y2="160.5" stroke="#111" stroke-width="0.9"/><line x1="377.87" y1="167.6" x2="377.87" y2="168.5" stroke="#000" stroke-width="0.5" stroke-opacity="0.5"/><line x1="376.77" y1="168.5" x2="378.97" y2="168.5" stroke="#111" stroke-width="0.9"/><rect x="377.27" y="169.5" width="1.2" height="1.4" fill="#333"/><rect x="375.82" y="161.1" width="4.1" height="6.5" rx="0.4" fill="none" stroke="#3434ff" stroke-width="0.85"/><line x1="376.22" y1="163.7" x2="379.53" y2="163.7" stroke="#ff3030" stroke-width="1.1"/><rect x="385.48" y="198.8" width="1.2" height="1.4" fill="#333"/><rect x="385.48" y="202.9" width="1.2" height="1.4" fill="#333"/><rect x="384.03" y="187.6" width="4.1" height="8.9" rx="0.4" fill="none" stroke="#3434ff" stroke-width="0.85"/><line x1="384.43" y1="189.3" x2="387.73" y2="189.3" stroke="#ff3030" stroke-width="1.1"/><rect x="392.24" y="136" width="4.1" height="3.8" rx="1.2" fill="none" stroke="#3434ff" stroke-width="0.85"/><line x1="392.64" y1="137.9" x2="395.94" y2="137.9" stroke="#ff3030" stroke-width="1.1"/><rect x="400.24" y="143.8" width="4.5" height="1.4" rx="0.7" fill="#5a1070"/><rect x="299.9" y="134.7" width="106.7" height="85.3" fill="none" stroke="#444444" stroke-width="0.9"/><line x1="304" y1="220" x2="304" y2="218.4" stroke="#444444" stroke-width="0.6"/><line x1="304" y1="134.7" x2="304" y2="136.3" stroke="#444444" stroke-width="0.6"/><line x1="312.21" y1="220" x2="312.21" y2="218.4" stroke="#444444" stroke-width="0.6"/><line x1="312.21" y1="134.7" x2="312.21" y2="136.3" stroke="#444444" stroke-width="0.6"/><line x1="320.42" y1="220" x2="320.42" y2="218.4" stroke="#444444" stroke-width="0.6"/><line x1="320.42" y1="134.7" x2="320.42" y2="136.3" stroke="#444444" stroke-width="0.6"/><line x1="328.63" y1="220" x2="328.63" y2="218.4" stroke="#444444" stroke-width="0.6"/><line x1="328.63" y1="134.7" x2="328.63" y2="136.3" stroke="#444444" stroke-width="0.6"/><line x1="336.83" y1="220" x2="336.83" y2="218.4" stroke="#444444" stroke-width="0.6"/><line x1="336.83" y1="134.7" x2="336.83" y2="136.3" stroke="#444444" stroke-width="0.6"/><line x1="345.04" y1="220" x2="345.04" y2="218.4" stroke="#444444" stroke-width="0.6"/><line x1="345.04" y1="134.7" x2="345.04" y2="136.3" stroke="#444444" stroke-width="0.6"/><line x1="353.25" y1="220" x2="353.25" y2="218.4" stroke="#444444" stroke-width="0.6"/><line x1="353.25" y1="134.7" x2="353.25" y2="136.3" stroke="#444444" stroke-width="0.6"/><line x1="361.46" y1="220" x2="361.46" y2="218.4" stroke="#444444" stroke-width="0.6"/><line x1="361.46" y1="134.7" x2="361.46" y2="136.3" stroke="#444444" stroke-width="0.6"/><line x1="369.67" y1="220" x2="369.67" y2="218.4" stroke="#444444" stroke-width="0.6"/><line x1="369.67" y1="134.7" x2="369.67" y2="136.3" stroke="#444444" stroke-width="0.6"/><line x1="377.87" y1="220" x2="377.87" y2="218.4" stroke="#444444" stroke-width="0.6"/><line x1="377.87" y1="134.7" x2="377.87" y2="136.3" stroke="#444444" stroke-width="0.6"/><line x1="386.08" y1="220" x2="386.08" y2="218.4" stroke="#444444" stroke-width="0.6"/><line x1="386.08" y1="134.7" x2="386.08" y2="136.3" stroke="#444444" stroke-width="0.6"/><line x1="394.29" y1="220" x2="394.29" y2="218.4" stroke="#444444" stroke-width="0.6"/><line x1="394.29" y1="134.7" x2="394.29" y2="136.3" stroke="#444444" stroke-width="0.6"/><line x1="402.5" y1="220" x2="402.5" y2="218.4" stroke="#444444" stroke-width="0.6"/><line x1="402.5" y1="134.7" x2="402.5" y2="136.3" stroke="#444444" stroke-width="0.6"/><line x1="299.9" y1="220" x2="301.5" y2="220" stroke="#444444" stroke-width="0.6"/><line x1="406.6" y1="220" x2="405" y2="220" stroke="#444444" stroke-width="0.6"/><line x1="299.9" y1="180.9" x2="301.5" y2="180.9" stroke="#444444" stroke-width="0.6"/><line x1="406.6" y1="180.9" x2="405" y2="180.9" stroke="#444444" stroke-width="0.6"/><line x1="299.9" y1="141.5" x2="301.5" y2="141.5" stroke="#444444" stroke-width="0.6"/><line x1="406.6" y1="141.5" x2="405" y2="141.5" stroke="#444444" stroke-width="0.6"/><line x1="299.9" y1="208.44" x2="301" y2="208.44" stroke="#444444" stroke-width="0.6"/><line x1="406.6" y1="208.44" x2="405.5" y2="208.44" stroke="#444444" stroke-width="0.6"/><line x1="299.9" y1="201.5" x2="301" y2="201.5" stroke="#444444" stroke-width="0.6"/><line x1="406.6" y1="201.5" x2="405.5" y2="201.5" stroke="#444444" stroke-width="0.6"/><line x1="299.9" y1="196.58" x2="301" y2="196.58" stroke="#444444" stroke-width="0.6"/><line x1="406.6" y1="196.58" x2="405.5" y2="196.58" stroke="#444444" stroke-width="0.6"/><line x1="299.9" y1="192.76" x2="301" y2="192.76" stroke="#444444" stroke-width="0.6"/><line x1="406.6" y1="192.76" x2="405.5" y2="192.76" stroke="#444444" stroke-width="0.6"/><line x1="299.9" y1="189.64" x2="301" y2="189.64" stroke="#444444" stroke-width="0.6"/><line x1="406.6" y1="189.64" x2="405.5" y2="189.64" stroke="#444444" stroke-width="0.6"/><line x1="299.9" y1="187" x2="301" y2="187" stroke="#444444" stroke-width="0.6"/><line x1="406.6" y1="187" x2="405.5" y2="187" stroke="#444444" stroke-width="0.6"/><line x1="299.9" y1="184.72" x2="301" y2="184.72" stroke="#444444" stroke-width="0.6"/><line x1="406.6" y1="184.72" x2="405.5" y2="184.72" stroke="#444444" stroke-width="0.6"/><line x1="299.9" y1="182.7" x2="301" y2="182.7" stroke="#444444" stroke-width="0.6"/><line x1="406.6" y1="182.7" x2="405.5" y2="182.7" stroke="#444444" stroke-width="0.6"/><line x1="299.9" y1="169.04" x2="301" y2="169.04" stroke="#444444" stroke-width="0.6"/><line x1="406.6" y1="169.04" x2="405.5" y2="169.04" stroke="#444444" stroke-width="0.6"/><line x1="299.9" y1="162.1" x2="301" y2="162.1" stroke="#444444" stroke-width="0.6"/><line x1="406.6" y1="162.1" x2="405.5" y2="162.1" stroke="#444444" stroke-width="0.6"/><line x1="299.9" y1="157.18" x2="301" y2="157.18" stroke="#444444" stroke-width="0.6"/><line x1="406.6" y1="157.18" x2="405.5" y2="157.18" stroke="#444444" stroke-width="0.6"/><line x1="299.9" y1="153.36" x2="301" y2="153.36" stroke="#444444" stroke-width="0.6"/><line x1="406.6" y1="153.36" x2="405.5" y2="153.36" stroke="#444444" stroke-width="0.6"/><line x1="299.9" y1="150.24" x2="301" y2="150.24" stroke="#444444" stroke-width="0.6"/><line x1="406.6" y1="150.24" x2="405.5" y2="150.24" stroke="#444444" stroke-width="0.6"/><line x1="299.9" y1="147.6" x2="301" y2="147.6" stroke="#444444" stroke-width="0.6"/><line x1="406.6" y1="147.6" x2="405.5" y2="147.6" stroke="#444444" stroke-width="0.6"/><line x1="299.9" y1="145.32" x2="301" y2="145.32" stroke="#444444" stroke-width="0.6"/><line x1="406.6" y1="145.32" x2="405.5" y2="145.32" stroke="#444444" stroke-width="0.6"/><line x1="299.9" y1="143.3" x2="301" y2="143.3" stroke="#444444" stroke-width="0.6"/><line x1="406.6" y1="143.3" x2="405.5" y2="143.3" stroke="#444444" stroke-width="0.6"/><text x="298.3" y="223.1" text-anchor="end" font-size="6.4" fill="#333333" stroke="#333333" stroke-width="0.08">10<tspan font-size="4.6" dy="-2.8">6</tspan></text><text x="298.3" y="184" text-anchor="end" font-size="6.4" fill="#333333" stroke="#333333" stroke-width="0.08">10<tspan font-size="4.6" dy="-2.8">7</tspan></text><text x="298.3" y="144.6" text-anchor="end" font-size="6.4" fill="#333333" stroke="#333333" stroke-width="0.08">10<tspan font-size="4.6" dy="-2.8">8</tspan></text><text transform="translate(306.5,221.8) rotate(-90)" text-anchor="end" font-size="6.5" fill="#333333" stroke="#333333" stroke-width="0.08">WOA</text><text transform="translate(314.71,221.8) rotate(-90)" text-anchor="end" font-size="6.5" fill="#333333" stroke="#333333" stroke-width="0.08">WSO</text><text transform="translate(322.92,221.8) rotate(-90)" text-anchor="end" font-size="6.5" fill="#333333" stroke="#333333" stroke-width="0.08">AVOA</text><text transform="translate(331.13,221.8) rotate(-90)" text-anchor="end" font-size="6.5" fill="#333333" stroke="#333333" stroke-width="0.08">RSA</text><text transform="translate(339.33,221.8) rotate(-90)" text-anchor="end" font-size="6.5" fill="#333333" stroke="#333333" stroke-width="0.08">MPA</text><text transform="translate(347.54,221.8) rotate(-90)" text-anchor="end" font-size="6.5" fill="#333333" stroke="#333333" stroke-width="0.08">TSA</text><text transform="translate(355.75,221.8) rotate(-90)" text-anchor="end" font-size="6.5" fill="#333333" stroke="#333333" stroke-width="0.08">WA</text><text transform="translate(363.96,221.8) rotate(-90)" text-anchor="end" font-size="6.5" fill="#333333" stroke="#333333" stroke-width="0.08">MVO</text><text transform="translate(372.17,221.8) rotate(-90)" text-anchor="end" font-size="6.5" fill="#333333" stroke="#333333" stroke-width="0.08">GWO</text><text transform="translate(380.37,221.8) rotate(-90)" text-anchor="end" font-size="6.5" fill="#333333" stroke="#333333" stroke-width="0.08">TLBO</text><text transform="translate(388.58,221.8) rotate(-90)" text-anchor="end" font-size="6.5" fill="#333333" stroke="#333333" stroke-width="0.08">GSA</text><text transform="translate(396.79,221.8) rotate(-90)" text-anchor="end" font-size="6.5" fill="#333333" stroke="#333333" stroke-width="0.08">PSO</text><text transform="translate(405,221.8) rotate(-90)" text-anchor="end" font-size="6.5" fill="#333333" stroke="#333333" stroke-width="0.08">GA</text><text x="353.25" y="133.1" text-anchor="middle" font-size="7.0" font-weight="bold" fill="#111" stroke="#111" stroke-width="0.3" textLength="26.2" lengthAdjust="spacingAndGlyphs">C11-F19</text><text x="353.25" y="246.8" text-anchor="middle" font-size="7.3" fill="#333333" stroke="#333333" stroke-width="0.08">algorithm</text><text transform="translate(285.9,177.35) rotate(-90)" text-anchor="middle" font-size="7.2" fill="#333333" stroke="#333333" stroke-width="0.08">objective function</text></g>
<g><line x1="441.65" y1="219.3" x2="445.75" y2="219.3" stroke="#ff3030" stroke-width="1.2" stroke-opacity="0.8"/><line x1="451.9" y1="152.3" x2="451.9" y2="153.1" stroke="#000" stroke-width="0.5" stroke-opacity="0.5"/><line x1="450.8" y1="152.3" x2="453" y2="152.3" stroke="#111" stroke-width="0.9"/><rect x="449.85" y="153.1" width="4.1" height="4.2" rx="0.8" fill="none" stroke="#3434ff" stroke-width="0.85"/><line x1="450.25" y1="155" x2="453.55" y2="155" stroke="#ff3030" stroke-width="1.1"/><rect x="458.05" y="190.4" width="4.1" height="3.7" rx="1.2" fill="none" stroke="#3434ff" stroke-width="0.85"/><line x1="458.45" y1="192.1" x2="461.75" y2="192.1" stroke="#ff3030" stroke-width="1.1"/><line x1="468.3" y1="139.1" x2="468.3" y2="140" stroke="#000" stroke-width="0.5" stroke-opacity="0.5"/><line x1="467.2" y1="139.1" x2="469.4" y2="139.1" stroke="#111" stroke-width="0.9"/><rect x="466.25" y="140" width="4.1" height="4" rx="1.2" fill="none" stroke="#3434ff" stroke-width="0.85"/><line x1="466.65" y1="142" x2="469.95" y2="142" stroke="#ff3030" stroke-width="1.1"/><rect x="474.45" y="213.6" width="4.1" height="2.6" rx="1.2" fill="none" stroke="#3434ff" stroke-width="0.85"/><line x1="474.85" y1="214.8" x2="478.15" y2="214.8" stroke="#ff3030" stroke-width="1.1"/><line x1="484.7" y1="205.2" x2="484.7" y2="206.1" stroke="#000" stroke-width="0.5" stroke-opacity="0.5"/><line x1="483.6" y1="205.2" x2="485.8" y2="205.2" stroke="#111" stroke-width="0.9"/><rect x="482.65" y="206.1" width="4.1" height="4.2" rx="0.8" fill="none" stroke="#3434ff" stroke-width="0.85"/><line x1="483.05" y1="209.3" x2="486.35" y2="209.3" stroke="#ff3030" stroke-width="1.1"/><rect x="490.65" y="187.9" width="4.5" height="2.4" rx="1" fill="#40108c"/><rect x="499.05" y="213.4" width="4.1" height="2.7" rx="1.2" fill="none" stroke="#3434ff" stroke-width="0.85"/><line x1="499.45" y1="214.8" x2="502.75" y2="214.8" stroke="#ff3030" stroke-width="1.1"/><rect x="507.25" y="213.1" width="4.1" height="2.6" rx="1.2" fill="none" stroke="#3434ff" stroke-width="0.85"/><line x1="507.65" y1="214.3" x2="510.95" y2="214.3" stroke="#ff3030" stroke-width="1.1"/><rect x="515.25" y="162.7" width="4.5" height="1.4" rx="0.7" fill="#c81e5a"/><line x1="525.7" y1="173.3" x2="525.7" y2="174.4" stroke="#000" stroke-width="0.5" stroke-opacity="0.5"/><line x1="524.6" y1="173.3" x2="526.8" y2="173.3" stroke="#111" stroke-width="0.9"/><line x1="525.7" y1="183.2" x2="525.7" y2="184.7" stroke="#000" stroke-width="0.5" stroke-opacity="0.5"/><line x1="524.6" y1="184.7" x2="526.8" y2="184.7" stroke="#111" stroke-width="0.9"/><rect x="525.1" y="170.5" width="1.2" height="1.4" fill="#333"/><rect x="523.65" y="174.4" width="4.1" height="8.8" rx="0.4" fill="none" stroke="#3434ff" stroke-width="0.85"/><line x1="524.05" y1="180.1" x2="527.35" y2="180.1" stroke="#ff3030" stroke-width="1.1"/><rect x="531.85" y="135.4" width="4.1" height="4.4" rx="0.8" fill="none" stroke="#3434ff" stroke-width="0.85"/><line x1="532.25" y1="137.5" x2="535.55" y2="137.5" stroke="#ff3030" stroke-width="1.1"/><rect x="539.85" y="142.5" width="4.5" height="1.4" rx="0.7" fill="#4a1078"/><rect x="439.6" y="134.7" width="106.6" height="85.3" fill="none" stroke="#444444" stroke-width="0.9"/><line x1="443.7" y1="220" x2="443.7" y2="218.4" stroke="#444444" stroke-width="0.6"/><line x1="443.7" y1="134.7" x2="443.7" y2="136.3" stroke="#444444" stroke-width="0.6"/><line x1="451.9" y1="220" x2="451.9" y2="218.4" stroke="#444444" stroke-width="0.6"/><line x1="451.9" y1="134.7" x2="451.9" y2="136.3" stroke="#444444" stroke-width="0.6"/><line x1="460.1" y1="220" x2="460.1" y2="218.4" stroke="#444444" stroke-width="0.6"/><line x1="460.1" y1="134.7" x2="460.1" y2="136.3" stroke="#444444" stroke-width="0.6"/><line x1="468.3" y1="220" x2="468.3" y2="218.4" stroke="#444444" stroke-width="0.6"/><line x1="468.3" y1="134.7" x2="468.3" y2="136.3" stroke="#444444" stroke-width="0.6"/><line x1="476.5" y1="220" x2="476.5" y2="218.4" stroke="#444444" stroke-width="0.6"/><line x1="476.5" y1="134.7" x2="476.5" y2="136.3" stroke="#444444" stroke-width="0.6"/><line x1="484.7" y1="220" x2="484.7" y2="218.4" stroke="#444444" stroke-width="0.6"/><line x1="484.7" y1="134.7" x2="484.7" y2="136.3" stroke="#444444" stroke-width="0.6"/><line x1="492.9" y1="220" x2="492.9" y2="218.4" stroke="#444444" stroke-width="0.6"/><line x1="492.9" y1="134.7" x2="492.9" y2="136.3" stroke="#444444" stroke-width="0.6"/><line x1="501.1" y1="220" x2="501.1" y2="218.4" stroke="#444444" stroke-width="0.6"/><line x1="501.1" y1="134.7" x2="501.1" y2="136.3" stroke="#444444" stroke-width="0.6"/><line x1="509.3" y1="220" x2="509.3" y2="218.4" stroke="#444444" stroke-width="0.6"/><line x1="509.3" y1="134.7" x2="509.3" y2="136.3" stroke="#444444" stroke-width="0.6"/><line x1="517.5" y1="220" x2="517.5" y2="218.4" stroke="#444444" stroke-width="0.6"/><line x1="517.5" y1="134.7" x2="517.5" y2="136.3" stroke="#444444" stroke-width="0.6"/><line x1="525.7" y1="220" x2="525.7" y2="218.4" stroke="#444444" stroke-width="0.6"/><line x1="525.7" y1="134.7" x2="525.7" y2="136.3" stroke="#444444" stroke-width="0.6"/><line x1="533.9" y1="220" x2="533.9" y2="218.4" stroke="#444444" stroke-width="0.6"/><line x1="533.9" y1="134.7" x2="533.9" y2="136.3" stroke="#444444" stroke-width="0.6"/><line x1="542.1" y1="220" x2="542.1" y2="218.4" stroke="#444444" stroke-width="0.6"/><line x1="542.1" y1="134.7" x2="542.1" y2="136.3" stroke="#444444" stroke-width="0.6"/><line x1="439.6" y1="220" x2="441.2" y2="220" stroke="#444444" stroke-width="0.6"/><line x1="546.2" y1="220" x2="544.6" y2="220" stroke="#444444" stroke-width="0.6"/><line x1="439.6" y1="180.2" x2="441.2" y2="180.2" stroke="#444444" stroke-width="0.6"/><line x1="546.2" y1="180.2" x2="544.6" y2="180.2" stroke="#444444" stroke-width="0.6"/><line x1="439.6" y1="140" x2="441.2" y2="140" stroke="#444444" stroke-width="0.6"/><line x1="546.2" y1="140" x2="544.6" y2="140" stroke="#444444" stroke-width="0.6"/><line x1="439.6" y1="208.3" x2="440.7" y2="208.3" stroke="#444444" stroke-width="0.6"/><line x1="546.2" y1="208.3" x2="545.1" y2="208.3" stroke="#444444" stroke-width="0.6"/><line x1="439.6" y1="201.22" x2="440.7" y2="201.22" stroke="#444444" stroke-width="0.6"/><line x1="546.2" y1="201.22" x2="545.1" y2="201.22" stroke="#444444" stroke-width="0.6"/><line x1="439.6" y1="196.2" x2="440.7" y2="196.2" stroke="#444444" stroke-width="0.6"/><line x1="546.2" y1="196.2" x2="545.1" y2="196.2" stroke="#444444" stroke-width="0.6"/><line x1="439.6" y1="192.3" x2="440.7" y2="192.3" stroke="#444444" stroke-width="0.6"/><line x1="546.2" y1="192.3" x2="545.1" y2="192.3" stroke="#444444" stroke-width="0.6"/><line x1="439.6" y1="189.12" x2="440.7" y2="189.12" stroke="#444444" stroke-width="0.6"/><line x1="546.2" y1="189.12" x2="545.1" y2="189.12" stroke="#444444" stroke-width="0.6"/><line x1="439.6" y1="186.43" x2="440.7" y2="186.43" stroke="#444444" stroke-width="0.6"/><line x1="546.2" y1="186.43" x2="545.1" y2="186.43" stroke="#444444" stroke-width="0.6"/><line x1="439.6" y1="184.1" x2="440.7" y2="184.1" stroke="#444444" stroke-width="0.6"/><line x1="546.2" y1="184.1" x2="545.1" y2="184.1" stroke="#444444" stroke-width="0.6"/><line x1="439.6" y1="182.04" x2="440.7" y2="182.04" stroke="#444444" stroke-width="0.6"/><line x1="546.2" y1="182.04" x2="545.1" y2="182.04" stroke="#444444" stroke-width="0.6"/><line x1="439.6" y1="168.1" x2="440.7" y2="168.1" stroke="#444444" stroke-width="0.6"/><line x1="546.2" y1="168.1" x2="545.1" y2="168.1" stroke="#444444" stroke-width="0.6"/><line x1="439.6" y1="161.02" x2="440.7" y2="161.02" stroke="#444444" stroke-width="0.6"/><line x1="546.2" y1="161.02" x2="545.1" y2="161.02" stroke="#444444" stroke-width="0.6"/><line x1="439.6" y1="156" x2="440.7" y2="156" stroke="#444444" stroke-width="0.6"/><line x1="546.2" y1="156" x2="545.1" y2="156" stroke="#444444" stroke-width="0.6"/><line x1="439.6" y1="152.1" x2="440.7" y2="152.1" stroke="#444444" stroke-width="0.6"/><line x1="546.2" y1="152.1" x2="545.1" y2="152.1" stroke="#444444" stroke-width="0.6"/><line x1="439.6" y1="148.92" x2="440.7" y2="148.92" stroke="#444444" stroke-width="0.6"/><line x1="546.2" y1="148.92" x2="545.1" y2="148.92" stroke="#444444" stroke-width="0.6"/><line x1="439.6" y1="146.23" x2="440.7" y2="146.23" stroke="#444444" stroke-width="0.6"/><line x1="546.2" y1="146.23" x2="545.1" y2="146.23" stroke="#444444" stroke-width="0.6"/><line x1="439.6" y1="143.9" x2="440.7" y2="143.9" stroke="#444444" stroke-width="0.6"/><line x1="546.2" y1="143.9" x2="545.1" y2="143.9" stroke="#444444" stroke-width="0.6"/><line x1="439.6" y1="141.84" x2="440.7" y2="141.84" stroke="#444444" stroke-width="0.6"/><line x1="546.2" y1="141.84" x2="545.1" y2="141.84" stroke="#444444" stroke-width="0.6"/><text x="438" y="223.1" text-anchor="end" font-size="6.4" fill="#333333" stroke="#333333" stroke-width="0.08">10<tspan font-size="4.6" dy="-2.8">6</tspan></text><text x="438" y="183.3" text-anchor="end" font-size="6.4" fill="#333333" stroke="#333333" stroke-width="0.08">10<tspan font-size="4.6" dy="-2.8">7</tspan></text><text x="438" y="143.1" text-anchor="end" font-size="6.4" fill="#333333" stroke="#333333" stroke-width="0.08">10<tspan font-size="4.6" dy="-2.8">8</tspan></text><text transform="translate(446.2,221.8) rotate(-90)" text-anchor="end" font-size="6.5" fill="#333333" stroke="#333333" stroke-width="0.08">WOA</text><text transform="translate(454.4,221.8) rotate(-90)" text-anchor="end" font-size="6.5" fill="#333333" stroke="#333333" stroke-width="0.08">WSO</text><text transform="translate(462.6,221.8) rotate(-90)" text-anchor="end" font-size="6.5" fill="#333333" stroke="#333333" stroke-width="0.08">AVOA</text><text transform="translate(470.8,221.8) rotate(-90)" text-anchor="end" font-size="6.5" fill="#333333" stroke="#333333" stroke-width="0.08">RSA</text><text transform="translate(479,221.8) rotate(-90)" text-anchor="end" font-size="6.5" fill="#333333" stroke="#333333" stroke-width="0.08">MPA</text><text transform="translate(487.2,221.8) rotate(-90)" text-anchor="end" font-size="6.5" fill="#333333" stroke="#333333" stroke-width="0.08">TSA</text><text transform="translate(495.4,221.8) rotate(-90)" text-anchor="end" font-size="6.5" fill="#333333" stroke="#333333" stroke-width="0.08">WA</text><text transform="translate(503.6,221.8) rotate(-90)" text-anchor="end" font-size="6.5" fill="#333333" stroke="#333333" stroke-width="0.08">MVO</text><text transform="translate(511.8,221.8) rotate(-90)" text-anchor="end" font-size="6.5" fill="#333333" stroke="#333333" stroke-width="0.08">GWO</text><text transform="translate(520,221.8) rotate(-90)" text-anchor="end" font-size="6.5" fill="#333333" stroke="#333333" stroke-width="0.08">TLBO</text><text transform="translate(528.2,221.8) rotate(-90)" text-anchor="end" font-size="6.5" fill="#333333" stroke="#333333" stroke-width="0.08">GSA</text><text transform="translate(536.4,221.8) rotate(-90)" text-anchor="end" font-size="6.5" fill="#333333" stroke="#333333" stroke-width="0.08">PSO</text><text transform="translate(544.6,221.8) rotate(-90)" text-anchor="end" font-size="6.5" fill="#333333" stroke="#333333" stroke-width="0.08">GA</text><text x="492.9" y="133.1" text-anchor="middle" font-size="7.0" font-weight="bold" fill="#111" stroke="#111" stroke-width="0.3" textLength="26.2" lengthAdjust="spacingAndGlyphs">C11-F20</text><text x="492.9" y="246.8" text-anchor="middle" font-size="7.3" fill="#333333" stroke="#333333" stroke-width="0.08">algorithm</text><text transform="translate(425.6,177.35) rotate(-90)" text-anchor="middle" font-size="7.2" fill="#333333" stroke="#333333" stroke-width="0.08">objective function</text></g>
<g><line x1="164.29" y1="314.6" x2="164.29" y2="315.3" stroke="#000" stroke-width="0.5" stroke-opacity="0.5"/><line x1="163.19" y1="314.6" x2="165.39" y2="314.6" stroke="#111" stroke-width="0.9"/><rect x="163.69" y="324.7" width="1.2" height="1.4" fill="#333"/><rect x="162.25" y="315.3" width="4.09" height="8.3" rx="0.4" fill="none" stroke="#3434ff" stroke-width="0.85"/><line x1="162.65" y1="318.6" x2="165.94" y2="318.6" stroke="#ff3030" stroke-width="1.1"/><line x1="172.48" y1="281.5" x2="172.48" y2="283" stroke="#000" stroke-width="0.5" stroke-opacity="0.5"/><line x1="171.38" y1="281.5" x2="173.58" y2="281.5" stroke="#111" stroke-width="0.9"/><line x1="172.48" y1="288" x2="172.48" y2="289.3" stroke="#000" stroke-width="0.5" stroke-opacity="0.5"/><line x1="171.38" y1="289.3" x2="173.58" y2="289.3" stroke="#111" stroke-width="0.9"/><rect x="170.43" y="283" width="4.09" height="5" rx="0.8" fill="none" stroke="#3434ff" stroke-width="0.85"/><line x1="170.83" y1="285.8" x2="174.12" y2="285.8" stroke="#ff3030" stroke-width="1.1"/><line x1="180.66" y1="302.8" x2="180.66" y2="303.2" stroke="#000" stroke-width="0.5" stroke-opacity="0.5"/><line x1="179.56" y1="303.2" x2="181.76" y2="303.2" stroke="#111" stroke-width="0.9"/><rect x="178.62" y="300.1" width="4.09" height="2.7" rx="1.2" fill="none" stroke="#3434ff" stroke-width="0.85"/><line x1="179.02" y1="301.4" x2="182.31" y2="301.4" stroke="#ff3030" stroke-width="1.1"/><line x1="188.85" y1="270.9" x2="188.85" y2="272.4" stroke="#000" stroke-width="0.5" stroke-opacity="0.5"/><line x1="187.75" y1="270.9" x2="189.95" y2="270.9" stroke="#111" stroke-width="0.9"/><line x1="188.85" y1="280.4" x2="188.85" y2="282.3" stroke="#000" stroke-width="0.5" stroke-opacity="0.5"/><line x1="187.75" y1="282.3" x2="189.95" y2="282.3" stroke="#111" stroke-width="0.9"/><rect x="186.8" y="272.4" width="4.09" height="8" rx="0.4" fill="none" stroke="#3434ff" stroke-width="0.85"/><line x1="187.2" y1="276.4" x2="190.49" y2="276.4" stroke="#ff3030" stroke-width="1.1"/><rect x="194.98" y="303.8" width="4.09" height="4.7" rx="0.8" fill="none" stroke="#3434ff" stroke-width="0.85"/><line x1="195.38" y1="306.1" x2="198.68" y2="306.1" stroke="#ff3030" stroke-width="1.1"/><line x1="205.22" y1="297.6" x2="205.22" y2="298.8" stroke="#000" stroke-width="0.5" stroke-opacity="0.5"/><line x1="204.12" y1="298.8" x2="206.32" y2="298.8" stroke="#111" stroke-width="0.9"/><rect x="203.17" y="294.6" width="4.09" height="3" rx="1.2" fill="none" stroke="#3434ff" stroke-width="0.85"/><line x1="203.57" y1="295.8" x2="206.86" y2="295.8" stroke="#ff3030" stroke-width="1.1"/><line x1="213.4" y1="288.4" x2="213.4" y2="289.3" stroke="#000" stroke-width="0.5" stroke-opacity="0.5"/><line x1="212.3" y1="288.4" x2="214.5" y2="288.4" stroke="#111" stroke-width="0.9"/><rect x="211.35" y="289.3" width="4.09" height="3.1" rx="1.2" fill="none" stroke="#3434ff" stroke-width="0.85"/><line x1="211.75" y1="290.6" x2="215.05" y2="290.6" stroke="#ff3030" stroke-width="1.1"/><rect x="219.54" y="295.6" width="4.09" height="3.6" rx="1.2" fill="none" stroke="#3434ff" stroke-width="0.85"/><line x1="219.94" y1="297.2" x2="223.23" y2="297.2" stroke="#ff3030" stroke-width="1.1"/><line x1="229.77" y1="303" x2="229.77" y2="303.3" stroke="#000" stroke-width="0.5" stroke-opacity="0.5"/><line x1="228.67" y1="303.3" x2="230.87" y2="303.3" stroke="#111" stroke-width="0.9"/><rect x="227.72" y="299.1" width="4.09" height="3.9" rx="1.2" fill="none" stroke="#3434ff" stroke-width="0.85"/><line x1="228.12" y1="301.1" x2="231.42" y2="301.1" stroke="#ff3030" stroke-width="1.1"/><line x1="237.95" y1="260.4" x2="237.95" y2="264.4" stroke="#000" stroke-width="0.5" stroke-opacity="0.5"/><line x1="236.85" y1="260.4" x2="239.05" y2="260.4" stroke="#111" stroke-width="0.9"/><rect x="237.35" y="280.2" width="1.2" height="1.4" fill="#333"/><rect x="237.35" y="284.8" width="1.2" height="1.4" fill="#333"/><rect x="235.91" y="264.4" width="4.09" height="12.2" rx="0.4" fill="none" stroke="#3434ff" stroke-width="0.85"/><line x1="236.31" y1="269" x2="239.6" y2="269" stroke="#ff3030" stroke-width="1.1"/><line x1="246.14" y1="292.2" x2="246.14" y2="292.3" stroke="#000" stroke-width="0.5" stroke-opacity="0.5"/><line x1="245.04" y1="292.3" x2="247.24" y2="292.3" stroke="#111" stroke-width="0.9"/><rect x="244.09" y="288.4" width="4.09" height="3.8" rx="1.2" fill="none" stroke="#3434ff" stroke-width="0.85"/><line x1="244.49" y1="289.8" x2="247.78" y2="289.8" stroke="#ff3030" stroke-width="1.1"/><rect x="252.28" y="265.9" width="4.09" height="5.7" rx="0.8" fill="none" stroke="#3434ff" stroke-width="0.85"/><line x1="252.68" y1="268.4" x2="255.97" y2="268.4" stroke="#ff3030" stroke-width="1.1"/><line x1="262.51" y1="275" x2="262.51" y2="276.2" stroke="#000" stroke-width="0.5" stroke-opacity="0.5"/><line x1="261.41" y1="276.2" x2="263.61" y2="276.2" stroke="#111" stroke-width="0.9"/><rect x="261.91" y="280.8" width="1.2" height="1.4" fill="#333"/><rect x="260.46" y="264.4" width="4.09" height="10.6" rx="0.4" fill="none" stroke="#3434ff" stroke-width="0.85"/><line x1="260.86" y1="267" x2="264.15" y2="267" stroke="#ff3030" stroke-width="1.1"/><rect x="160.2" y="259.5" width="106.4" height="85.2" fill="none" stroke="#444444" stroke-width="0.9"/><line x1="164.29" y1="344.7" x2="164.29" y2="343.1" stroke="#444444" stroke-width="0.6"/><line x1="164.29" y1="259.5" x2="164.29" y2="261.1" stroke="#444444" stroke-width="0.6"/><line x1="172.48" y1="344.7" x2="172.48" y2="343.1" stroke="#444444" stroke-width="0.6"/><line x1="172.48" y1="259.5" x2="172.48" y2="261.1" stroke="#444444" stroke-width="0.6"/><line x1="180.66" y1="344.7" x2="180.66" y2="343.1" stroke="#444444" stroke-width="0.6"/><line x1="180.66" y1="259.5" x2="180.66" y2="261.1" stroke="#444444" stroke-width="0.6"/><line x1="188.85" y1="344.7" x2="188.85" y2="343.1" stroke="#444444" stroke-width="0.6"/><line x1="188.85" y1="259.5" x2="188.85" y2="261.1" stroke="#444444" stroke-width="0.6"/><line x1="197.03" y1="344.7" x2="197.03" y2="343.1" stroke="#444444" stroke-width="0.6"/><line x1="197.03" y1="259.5" x2="197.03" y2="261.1" stroke="#444444" stroke-width="0.6"/><line x1="205.22" y1="344.7" x2="205.22" y2="343.1" stroke="#444444" stroke-width="0.6"/><line x1="205.22" y1="259.5" x2="205.22" y2="261.1" stroke="#444444" stroke-width="0.6"/><line x1="213.4" y1="344.7" x2="213.4" y2="343.1" stroke="#444444" stroke-width="0.6"/><line x1="213.4" y1="259.5" x2="213.4" y2="261.1" stroke="#444444" stroke-width="0.6"/><line x1="221.58" y1="344.7" x2="221.58" y2="343.1" stroke="#444444" stroke-width="0.6"/><line x1="221.58" y1="259.5" x2="221.58" y2="261.1" stroke="#444444" stroke-width="0.6"/><line x1="229.77" y1="344.7" x2="229.77" y2="343.1" stroke="#444444" stroke-width="0.6"/><line x1="229.77" y1="259.5" x2="229.77" y2="261.1" stroke="#444444" stroke-width="0.6"/><line x1="237.95" y1="344.7" x2="237.95" y2="343.1" stroke="#444444" stroke-width="0.6"/><line x1="237.95" y1="259.5" x2="237.95" y2="261.1" stroke="#444444" stroke-width="0.6"/><line x1="246.14" y1="344.7" x2="246.14" y2="343.1" stroke="#444444" stroke-width="0.6"/><line x1="246.14" y1="259.5" x2="246.14" y2="261.1" stroke="#444444" stroke-width="0.6"/><line x1="254.32" y1="344.7" x2="254.32" y2="343.1" stroke="#444444" stroke-width="0.6"/><line x1="254.32" y1="259.5" x2="254.32" y2="261.1" stroke="#444444" stroke-width="0.6"/><line x1="262.51" y1="344.7" x2="262.51" y2="343.1" stroke="#444444" stroke-width="0.6"/><line x1="262.51" y1="259.5" x2="262.51" y2="261.1" stroke="#444444" stroke-width="0.6"/><line x1="160.2" y1="326.5" x2="161.8" y2="326.5" stroke="#444444" stroke-width="0.6"/><line x1="266.6" y1="326.5" x2="265" y2="326.5" stroke="#444444" stroke-width="0.6"/><line x1="160.2" y1="264" x2="161.8" y2="264" stroke="#444444" stroke-width="0.6"/><line x1="266.6" y1="264" x2="265" y2="264" stroke="#444444" stroke-width="0.6"/><line x1="160.2" y1="340.37" x2="161.3" y2="340.37" stroke="#444444" stroke-width="0.6"/><line x1="266.6" y1="340.37" x2="265.5" y2="340.37" stroke="#444444" stroke-width="0.6"/><line x1="160.2" y1="336.18" x2="161.3" y2="336.18" stroke="#444444" stroke-width="0.6"/><line x1="266.6" y1="336.18" x2="265.5" y2="336.18" stroke="#444444" stroke-width="0.6"/><line x1="160.2" y1="332.56" x2="161.3" y2="332.56" stroke="#444444" stroke-width="0.6"/><line x1="266.6" y1="332.56" x2="265.5" y2="332.56" stroke="#444444" stroke-width="0.6"/><line x1="160.2" y1="329.36" x2="161.3" y2="329.36" stroke="#444444" stroke-width="0.6"/><line x1="266.6" y1="329.36" x2="265.5" y2="329.36" stroke="#444444" stroke-width="0.6"/><line x1="160.2" y1="307.69" x2="161.3" y2="307.69" stroke="#444444" stroke-width="0.6"/><line x1="266.6" y1="307.69" x2="265.5" y2="307.69" stroke="#444444" stroke-width="0.6"/><line x1="160.2" y1="296.68" x2="161.3" y2="296.68" stroke="#444444" stroke-width="0.6"/><line x1="266.6" y1="296.68" x2="265.5" y2="296.68" stroke="#444444" stroke-width="0.6"/><line x1="160.2" y1="288.87" x2="161.3" y2="288.87" stroke="#444444" stroke-width="0.6"/><line x1="266.6" y1="288.87" x2="265.5" y2="288.87" stroke="#444444" stroke-width="0.6"/><line x1="160.2" y1="282.81" x2="161.3" y2="282.81" stroke="#444444" stroke-width="0.6"/><line x1="266.6" y1="282.81" x2="265.5" y2="282.81" stroke="#444444" stroke-width="0.6"/><line x1="160.2" y1="277.87" x2="161.3" y2="277.87" stroke="#444444" stroke-width="0.6"/><line x1="266.6" y1="277.87" x2="265.5" y2="277.87" stroke="#444444" stroke-width="0.6"/><line x1="160.2" y1="273.68" x2="161.3" y2="273.68" stroke="#444444" stroke-width="0.6"/><line x1="266.6" y1="273.68" x2="265.5" y2="273.68" stroke="#444444" stroke-width="0.6"/><line x1="160.2" y1="270.06" x2="161.3" y2="270.06" stroke="#444444" stroke-width="0.6"/><line x1="266.6" y1="270.06" x2="265.5" y2="270.06" stroke="#444444" stroke-width="0.6"/><line x1="160.2" y1="266.86" x2="161.3" y2="266.86" stroke="#444444" stroke-width="0.6"/><line x1="266.6" y1="266.86" x2="265.5" y2="266.86" stroke="#444444" stroke-width="0.6"/><text x="158.6" y="329.6" text-anchor="end" font-size="6.4" fill="#333333" stroke="#333333" stroke-width="0.08">10<tspan font-size="4.6" dy="-2.8">1</tspan></text><text x="158.6" y="267.1" text-anchor="end" font-size="6.4" fill="#333333" stroke="#333333" stroke-width="0.08">10<tspan font-size="4.6" dy="-2.8">2</tspan></text><text transform="translate(166.79,346.5) rotate(-90)" text-anchor="end" font-size="6.5" fill="#333333" stroke="#333333" stroke-width="0.08">WOA</text><text transform="translate(174.98,346.5) rotate(-90)" text-anchor="end" font-size="6.5" fill="#333333" stroke="#333333" stroke-width="0.08">WSO</text><text transform="translate(183.16,346.5) rotate(-90)" text-anchor="end" font-size="6.5" fill="#333333" stroke="#333333" stroke-width="0.08">AVOA</text><text transform="translate(191.35,346.5) rotate(-90)" text-anchor="end" font-size="6.5" fill="#333333" stroke="#333333" stroke-width="0.08">RSA</text><text transform="translate(199.53,346.5) rotate(-90)" text-anchor="end" font-size="6.5" fill="#333333" stroke="#333333" stroke-width="0.08">MPA</text><text transform="translate(207.72,346.5) rotate(-90)" text-anchor="end" font-size="6.5" fill="#333333" stroke="#333333" stroke-width="0.08">TSA</text><text transform="translate(215.9,346.5) rotate(-90)" text-anchor="end" font-size="6.5" fill="#333333" stroke="#333333" stroke-width="0.08">WA</text><text transform="translate(224.08,346.5) rotate(-90)" text-anchor="end" font-size="6.5" fill="#333333" stroke="#333333" stroke-width="0.08">MVO</text><text transform="translate(232.27,346.5) rotate(-90)" text-anchor="end" font-size="6.5" fill="#333333" stroke="#333333" stroke-width="0.08">GWO</text><text transform="translate(240.45,346.5) rotate(-90)" text-anchor="end" font-size="6.5" fill="#333333" stroke="#333333" stroke-width="0.08">TLBO</text><text transform="translate(248.64,346.5) rotate(-90)" text-anchor="end" font-size="6.5" fill="#333333" stroke="#333333" stroke-width="0.08">GSA</text><text transform="translate(256.82,346.5) rotate(-90)" text-anchor="end" font-size="6.5" fill="#333333" stroke="#333333" stroke-width="0.08">PSO</text><text transform="translate(265.01,346.5) rotate(-90)" text-anchor="end" font-size="6.5" fill="#333333" stroke="#333333" stroke-width="0.08">GA</text><text x="213.4" y="257.9" text-anchor="middle" font-size="7.0" font-weight="bold" fill="#111" stroke="#111" stroke-width="0.3" textLength="26.2" lengthAdjust="spacingAndGlyphs">C11-F21</text><text x="213.4" y="371.5" text-anchor="middle" font-size="7.3" fill="#333333" stroke="#333333" stroke-width="0.08">algorithm</text><text transform="translate(146.2,302.1) rotate(-90)" text-anchor="middle" font-size="7.2" fill="#333333" stroke="#333333" stroke-width="0.08">objective function</text></g>
<g><rect x="303.4" y="327.6" width="1.2" height="1.4" fill="#333"/><rect x="301.95" y="312.6" width="4.1" height="13.1" rx="0.4" fill="none" stroke="#3434ff" stroke-width="0.85"/><line x1="302.35" y1="317.5" x2="305.66" y2="317.5" stroke="#ff3030" stroke-width="1.1"/><line x1="312.21" y1="285.3" x2="312.21" y2="285.8" stroke="#000" stroke-width="0.5" stroke-opacity="0.5"/><line x1="311.11" y1="285.3" x2="313.31" y2="285.3" stroke="#111" stroke-width="0.9"/><line x1="312.21" y1="291" x2="312.21" y2="291.4" stroke="#000" stroke-width="0.5" stroke-opacity="0.5"/><line x1="311.11" y1="291.4" x2="313.31" y2="291.4" stroke="#111" stroke-width="0.9"/><rect x="310.16" y="285.8" width="4.1" height="5.2" rx="0.8" fill="none" stroke="#3434ff" stroke-width="0.85"/><line x1="310.56" y1="288" x2="313.86" y2="288" stroke="#ff3030" stroke-width="1.1"/><rect x="319.82" y="304.2" width="1.2" height="1.4" fill="#333"/><rect x="318.37" y="296.2" width="4.1" height="7.5" rx="0.4" fill="none" stroke="#3434ff" stroke-width="0.85"/><line x1="318.77" y1="299.2" x2="322.07" y2="299.2" stroke="#ff3030" stroke-width="1.1"/><rect x="328.03" y="286.9" width="1.2" height="1.4" fill="#333"/><rect x="326.57" y="277.5" width="4.1" height="6.9" rx="0.4" fill="none" stroke="#3434ff" stroke-width="0.85"/><line x1="326.97" y1="279.6" x2="330.28" y2="279.6" stroke="#ff3030" stroke-width="1.1"/><rect x="336.23" y="310.4" width="1.2" height="1.4" fill="#333"/><rect x="334.78" y="304.1" width="4.1" height="5.2" rx="0.8" fill="none" stroke="#3434ff" stroke-width="0.85"/><line x1="335.18" y1="306" x2="338.49" y2="306" stroke="#ff3030" stroke-width="1.1"/><rect x="344.44" y="299.7" width="1.2" height="1.4" fill="#333"/><rect x="342.99" y="294.8" width="4.1" height="3.8" rx="1.2" fill="none" stroke="#3434ff" stroke-width="0.85"/><line x1="343.39" y1="296.2" x2="346.69" y2="296.2" stroke="#ff3030" stroke-width="1.1"/><rect x="352.65" y="292.3" width="1.2" height="1.4" fill="#333"/><rect x="351.2" y="286.1" width="4.1" height="4.9" rx="0.8" fill="none" stroke="#3434ff" stroke-width="0.85"/><line x1="351.6" y1="288.4" x2="354.9" y2="288.4" stroke="#ff3030" stroke-width="1.1"/><line x1="361.46" y1="293.5" x2="361.46" y2="294.3" stroke="#000" stroke-width="0.5" stroke-opacity="0.5"/><line x1="360.36" y1="293.5" x2="362.56" y2="293.5" stroke="#111" stroke-width="0.9"/><line x1="361.46" y1="299.2" x2="361.46" y2="300.8" stroke="#000" stroke-width="0.5" stroke-opacity="0.5"/><line x1="360.36" y1="300.8" x2="362.56" y2="300.8" stroke="#111" stroke-width="0.9"/><rect x="359.41" y="294.3" width="4.1" height="4.9" rx="0.8" fill="none" stroke="#3434ff" stroke-width="0.85"/><line x1="359.81" y1="296.3" x2="363.11" y2="296.3" stroke="#ff3030" stroke-width="1.1"/><rect x="367.41" y="301.2" width="4.5" height="1.4" rx="0.7" fill="#8a1488"/><line x1="377.87" y1="263.6" x2="377.87" y2="264.4" stroke="#000" stroke-width="0.5" stroke-opacity="0.5"/><line x1="376.77" y1="263.6" x2="378.97" y2="263.6" stroke="#111" stroke-width="0.9"/><line x1="377.87" y1="273.2" x2="377.87" y2="274.1" stroke="#000" stroke-width="0.5" stroke-opacity="0.5"/><line x1="376.77" y1="274.1" x2="378.97" y2="274.1" stroke="#111" stroke-width="0.9"/><rect x="377.27" y="278.5" width="1.2" height="1.4" fill="#333"/><rect x="375.82" y="264.4" width="4.1" height="8.8" rx="0.4" fill="none" stroke="#3434ff" stroke-width="0.85"/><line x1="376.22" y1="266.7" x2="379.53" y2="266.7" stroke="#ff3030" stroke-width="1.1"/><line x1="386.08" y1="284.4" x2="386.08" y2="286.1" stroke="#000" stroke-width="0.5" stroke-opacity="0.5"/><line x1="384.98" y1="284.4" x2="387.18" y2="284.4" stroke="#111" stroke-width="0.9"/><line x1="386.08" y1="291.8" x2="386.08" y2="292.6" stroke="#000" stroke-width="0.5" stroke-opacity="0.5"/><line x1="384.98" y1="292.6" x2="387.18" y2="292.6" stroke="#111" stroke-width="0.9"/><rect x="384.03" y="286.1" width="4.1" height="5.7" rx="0.8" fill="none" stroke="#3434ff" stroke-width="0.85"/><line x1="384.43" y1="288.9" x2="387.73" y2="288.9" stroke="#ff3030" stroke-width="1.1"/><rect x="393.69" y="271.7" width="1.2" height="1.4" fill="#333"/><rect x="392.24" y="264.8" width="4.1" height="5.7" rx="0.8" fill="none" stroke="#3434ff" stroke-width="0.85"/><line x1="392.64" y1="266.7" x2="395.94" y2="266.7" stroke="#ff3030" stroke-width="1.1"/><rect x="400.24" y="270.8" width="4.5" height="1.4" rx="0.7" fill="#4a1078"/><rect x="299.9" y="259.5" width="106.7" height="85.2" fill="none" stroke="#444444" stroke-width="0.9"/><line x1="304" y1="344.7" x2="304" y2="343.1" stroke="#444444" stroke-width="0.6"/><line x1="304" y1="259.5" x2="304" y2="261.1" stroke="#444444" stroke-width="0.6"/><line x1="312.21" y1="344.7" x2="312.21" y2="343.1" stroke="#444444" stroke-width="0.6"/><line x1="312.21" y1="259.5" x2="312.21" y2="261.1" stroke="#444444" stroke-width="0.6"/><line x1="320.42" y1="344.7" x2="320.42" y2="343.1" stroke="#444444" stroke-width="0.6"/><line x1="320.42" y1="259.5" x2="320.42" y2="261.1" stroke="#444444" stroke-width="0.6"/><line x1="328.63" y1="344.7" x2="328.63" y2="343.1" stroke="#444444" stroke-width="0.6"/><line x1="328.63" y1="259.5" x2="328.63" y2="261.1" stroke="#444444" stroke-width="0.6"/><line x1="336.83" y1="344.7" x2="336.83" y2="343.1" stroke="#444444" stroke-width="0.6"/><line x1="336.83" y1="259.5" x2="336.83" y2="261.1" stroke="#444444" stroke-width="0.6"/><line x1="345.04" y1="344.7" x2="345.04" y2="343.1" stroke="#444444" stroke-width="0.6"/><line x1="345.04" y1="259.5" x2="345.04" y2="261.1" stroke="#444444" stroke-width="0.6"/><line x1="353.25" y1="344.7" x2="353.25" y2="343.1" stroke="#444444" stroke-width="0.6"/><line x1="353.25" y1="259.5" x2="353.25" y2="261.1" stroke="#444444" stroke-width="0.6"/><line x1="361.46" y1="344.7" x2="361.46" y2="343.1" stroke="#444444" stroke-width="0.6"/><line x1="361.46" y1="259.5" x2="361.46" y2="261.1" stroke="#444444" stroke-width="0.6"/><line x1="369.67" y1="344.7" x2="369.67" y2="343.1" stroke="#444444" stroke-width="0.6"/><line x1="369.67" y1="259.5" x2="369.67" y2="261.1" stroke="#444444" stroke-width="0.6"/><line x1="377.87" y1="344.7" x2="377.87" y2="343.1" stroke="#444444" stroke-width="0.6"/><line x1="377.87" y1="259.5" x2="377.87" y2="261.1" stroke="#444444" stroke-width="0.6"/><line x1="386.08" y1="344.7" x2="386.08" y2="343.1" stroke="#444444" stroke-width="0.6"/><line x1="386.08" y1="259.5" x2="386.08" y2="261.1" stroke="#444444" stroke-width="0.6"/><line x1="394.29" y1="344.7" x2="394.29" y2="343.1" stroke="#444444" stroke-width="0.6"/><line x1="394.29" y1="259.5" x2="394.29" y2="261.1" stroke="#444444" stroke-width="0.6"/><line x1="402.5" y1="344.7" x2="402.5" y2="343.1" stroke="#444444" stroke-width="0.6"/><line x1="402.5" y1="259.5" x2="402.5" y2="261.1" stroke="#444444" stroke-width="0.6"/><line x1="299.9" y1="331.4" x2="301.5" y2="331.4" stroke="#444444" stroke-width="0.6"/><line x1="406.6" y1="331.4" x2="405" y2="331.4" stroke="#444444" stroke-width="0.6"/><line x1="299.9" y1="262.4" x2="301.5" y2="262.4" stroke="#444444" stroke-width="0.6"/><line x1="406.6" y1="262.4" x2="405" y2="262.4" stroke="#444444" stroke-width="0.6"/><line x1="299.9" y1="342.09" x2="301" y2="342.09" stroke="#444444" stroke-width="0.6"/><line x1="406.6" y1="342.09" x2="405.5" y2="342.09" stroke="#444444" stroke-width="0.6"/><line x1="299.9" y1="338.09" x2="301" y2="338.09" stroke="#444444" stroke-width="0.6"/><line x1="406.6" y1="338.09" x2="405.5" y2="338.09" stroke="#444444" stroke-width="0.6"/><line x1="299.9" y1="334.56" x2="301" y2="334.56" stroke="#444444" stroke-width="0.6"/><line x1="406.6" y1="334.56" x2="405.5" y2="334.56" stroke="#444444" stroke-width="0.6"/><line x1="299.9" y1="310.63" x2="301" y2="310.63" stroke="#444444" stroke-width="0.6"/><line x1="406.6" y1="310.63" x2="405.5" y2="310.63" stroke="#444444" stroke-width="0.6"/><line x1="299.9" y1="298.48" x2="301" y2="298.48" stroke="#444444" stroke-width="0.6"/><line x1="406.6" y1="298.48" x2="405.5" y2="298.48" stroke="#444444" stroke-width="0.6"/><line x1="299.9" y1="289.86" x2="301" y2="289.86" stroke="#444444" stroke-width="0.6"/><line x1="406.6" y1="289.86" x2="405.5" y2="289.86" stroke="#444444" stroke-width="0.6"/><line x1="299.9" y1="283.17" x2="301" y2="283.17" stroke="#444444" stroke-width="0.6"/><line x1="406.6" y1="283.17" x2="405.5" y2="283.17" stroke="#444444" stroke-width="0.6"/><line x1="299.9" y1="277.71" x2="301" y2="277.71" stroke="#444444" stroke-width="0.6"/><line x1="406.6" y1="277.71" x2="405.5" y2="277.71" stroke="#444444" stroke-width="0.6"/><line x1="299.9" y1="273.09" x2="301" y2="273.09" stroke="#444444" stroke-width="0.6"/><line x1="406.6" y1="273.09" x2="405.5" y2="273.09" stroke="#444444" stroke-width="0.6"/><line x1="299.9" y1="269.09" x2="301" y2="269.09" stroke="#444444" stroke-width="0.6"/><line x1="406.6" y1="269.09" x2="405.5" y2="269.09" stroke="#444444" stroke-width="0.6"/><line x1="299.9" y1="265.56" x2="301" y2="265.56" stroke="#444444" stroke-width="0.6"/><line x1="406.6" y1="265.56" x2="405.5" y2="265.56" stroke="#444444" stroke-width="0.6"/><text x="298.3" y="334.5" text-anchor="end" font-size="6.4" fill="#333333" stroke="#333333" stroke-width="0.08">10<tspan font-size="4.6" dy="-2.8">1</tspan></text><text x="298.3" y="265.5" text-anchor="end" font-size="6.4" fill="#333333" stroke="#333333" stroke-width="0.08">10<tspan font-size="4.6" dy="-2.8">2</tspan></text><text transform="translate(306.5,346.5) rotate(-90)" text-anchor="end" font-size="6.5" fill="#333333" stroke="#333333" stroke-width="0.08">WOA</text><text transform="translate(314.71,346.5) rotate(-90)" text-anchor="end" font-size="6.5" fill="#333333" stroke="#333333" stroke-width="0.08">WSO</text><text transform="translate(322.92,346.5) rotate(-90)" text-anchor="end" font-size="6.5" fill="#333333" stroke="#333333" stroke-width="0.08">AVOA</text><text transform="translate(331.13,346.5) rotate(-90)" text-anchor="end" font-size="6.5" fill="#333333" stroke="#333333" stroke-width="0.08">RSA</text><text transform="translate(339.33,346.5) rotate(-90)" text-anchor="end" font-size="6.5" fill="#333333" stroke="#333333" stroke-width="0.08">MPA</text><text transform="translate(347.54,346.5) rotate(-90)" text-anchor="end" font-size="6.5" fill="#333333" stroke="#333333" stroke-width="0.08">TSA</text><text transform="translate(355.75,346.5) rotate(-90)" text-anchor="end" font-size="6.5" fill="#333333" stroke="#333333" stroke-width="0.08">WA</text><text transform="translate(363.96,346.5) rotate(-90)" text-anchor="end" font-size="6.5" fill="#333333" stroke="#333333" stroke-width="0.08">MVO</text><text transform="translate(372.17,346.5) rotate(-90)" text-anchor="end" font-size="6.5" fill="#333333" stroke="#333333" stroke-width="0.08">GWO</text><text transform="translate(380.37,346.5) rotate(-90)" text-anchor="end" font-size="6.5" fill="#333333" stroke="#333333" stroke-width="0.08">TLBO</text><text transform="translate(388.58,346.5) rotate(-90)" text-anchor="end" font-size="6.5" fill="#333333" stroke="#333333" stroke-width="0.08">GSA</text><text transform="translate(396.79,346.5) rotate(-90)" text-anchor="end" font-size="6.5" fill="#333333" stroke="#333333" stroke-width="0.08">PSO</text><text transform="translate(405,346.5) rotate(-90)" text-anchor="end" font-size="6.5" fill="#333333" stroke="#333333" stroke-width="0.08">GA</text><text x="353.25" y="257.9" text-anchor="middle" font-size="7.0" font-weight="bold" fill="#111" stroke="#111" stroke-width="0.3" textLength="26.2" lengthAdjust="spacingAndGlyphs">C11-F22</text><text x="353.25" y="371.5" text-anchor="middle" font-size="7.3" fill="#333333" stroke="#333333" stroke-width="0.08">algorithm</text><text transform="translate(285.9,302.1) rotate(-90)" text-anchor="middle" font-size="7.2" fill="#333333" stroke="#333333" stroke-width="0.08">objective function</text></g>
</g></svg>
</body></html>
